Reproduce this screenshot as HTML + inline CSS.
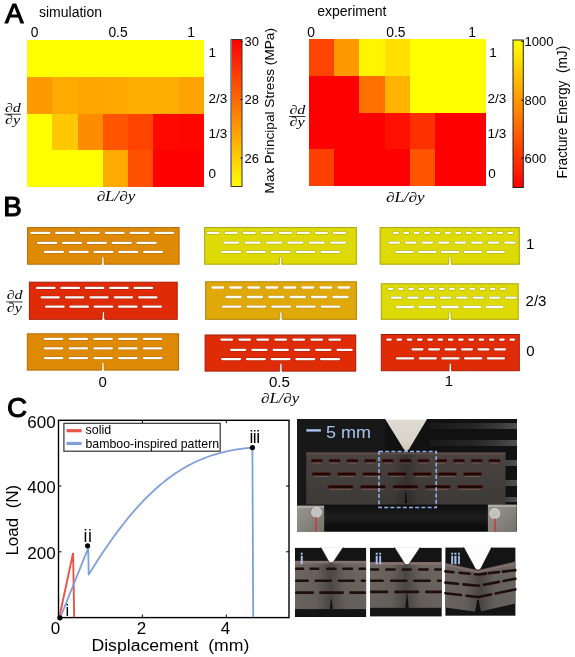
<!DOCTYPE html>
<html><head><meta charset="utf-8"><style>
html,body{margin:0;padding:0;background:#fff;}
body{width:575px;height:657px;overflow:hidden;font-family:"Liberation Sans",sans-serif;}
svg{display:block;will-change:transform;}
</style></head><body>
<svg width="575" height="657" viewBox="0 0 575 657">
<text x="5.0" y="22.6" font-family='"Liberation Sans", sans-serif' font-size="27.8" font-weight="normal" font-style="normal" fill="#000" text-anchor="start" stroke="#000" stroke-width="1.1">A</text>
<text x="39" y="17" font-family='"Liberation Sans", sans-serif' font-size="14" font-weight="normal" font-style="normal" fill="#000" text-anchor="start" >simulation</text>
<rect x="27.00" y="40.00" width="25.76" height="37.25" fill="#FFFF00" shape-rendering="crispEdges"/>
<rect x="52.26" y="40.00" width="25.76" height="37.25" fill="#FFFF00" shape-rendering="crispEdges"/>
<rect x="77.51" y="40.00" width="25.76" height="37.25" fill="#FFFF00" shape-rendering="crispEdges"/>
<rect x="102.77" y="40.00" width="25.76" height="37.25" fill="#FFFF00" shape-rendering="crispEdges"/>
<rect x="128.03" y="40.00" width="25.76" height="37.25" fill="#FFFF00" shape-rendering="crispEdges"/>
<rect x="153.29" y="40.00" width="25.76" height="37.25" fill="#FFFF00" shape-rendering="crispEdges"/>
<rect x="178.54" y="40.00" width="25.26" height="37.25" fill="#FFFF00" shape-rendering="crispEdges"/>
<rect x="27.00" y="76.75" width="25.76" height="37.25" fill="#FF9900" shape-rendering="crispEdges"/>
<rect x="52.26" y="76.75" width="25.76" height="37.25" fill="#FFAA00" shape-rendering="crispEdges"/>
<rect x="77.51" y="76.75" width="25.76" height="37.25" fill="#FFA500" shape-rendering="crispEdges"/>
<rect x="102.77" y="76.75" width="25.76" height="37.25" fill="#FFA800" shape-rendering="crispEdges"/>
<rect x="128.03" y="76.75" width="25.76" height="37.25" fill="#FFAD00" shape-rendering="crispEdges"/>
<rect x="153.29" y="76.75" width="25.76" height="37.25" fill="#FFAD00" shape-rendering="crispEdges"/>
<rect x="178.54" y="76.75" width="25.26" height="37.25" fill="#FFA300" shape-rendering="crispEdges"/>
<rect x="27.00" y="113.50" width="25.76" height="37.25" fill="#FFFF00" shape-rendering="crispEdges"/>
<rect x="52.26" y="113.50" width="25.76" height="37.25" fill="#FFC800" shape-rendering="crispEdges"/>
<rect x="77.51" y="113.50" width="25.76" height="37.25" fill="#FF8C00" shape-rendering="crispEdges"/>
<rect x="102.77" y="113.50" width="25.76" height="37.25" fill="#FF5500" shape-rendering="crispEdges"/>
<rect x="128.03" y="113.50" width="25.76" height="37.25" fill="#FF4400" shape-rendering="crispEdges"/>
<rect x="153.29" y="113.50" width="25.76" height="37.25" fill="#FF0800" shape-rendering="crispEdges"/>
<rect x="178.54" y="113.50" width="25.26" height="37.25" fill="#FF0500" shape-rendering="crispEdges"/>
<rect x="27.00" y="150.25" width="25.76" height="36.75" fill="#FFFF00" shape-rendering="crispEdges"/>
<rect x="52.26" y="150.25" width="25.76" height="36.75" fill="#FFFF00" shape-rendering="crispEdges"/>
<rect x="77.51" y="150.25" width="25.76" height="36.75" fill="#FFFF00" shape-rendering="crispEdges"/>
<rect x="102.77" y="150.25" width="25.76" height="36.75" fill="#FFAA00" shape-rendering="crispEdges"/>
<rect x="128.03" y="150.25" width="25.76" height="36.75" fill="#FF5000" shape-rendering="crispEdges"/>
<rect x="153.29" y="150.25" width="25.76" height="36.75" fill="#FF0000" shape-rendering="crispEdges"/>
<rect x="178.54" y="150.25" width="25.26" height="36.75" fill="#FF0000" shape-rendering="crispEdges"/>
<text x="34.7" y="36.6" font-family='"Liberation Sans", sans-serif' font-size="13.8" font-weight="normal" font-style="normal" fill="#000" text-anchor="middle" >0</text>
<text x="118" y="36.6" font-family='"Liberation Sans", sans-serif' font-size="13.8" font-weight="normal" font-style="normal" fill="#000" text-anchor="middle" >0.5</text>
<text x="191" y="36.6" font-family='"Liberation Sans", sans-serif' font-size="13.8" font-weight="normal" font-style="normal" fill="#000" text-anchor="middle" >1</text>
<text x="208.4" y="56.8" font-family='"Liberation Sans", sans-serif' font-size="13.5" font-weight="normal" font-style="normal" fill="#000" text-anchor="start" >1</text>
<text x="208.4" y="103.3" font-family='"Liberation Sans", sans-serif' font-size="13.5" font-weight="normal" font-style="normal" fill="#000" text-anchor="start" >2/3</text>
<text x="208.4" y="137.6" font-family='"Liberation Sans", sans-serif' font-size="13.5" font-weight="normal" font-style="normal" fill="#000" text-anchor="start" >1/3</text>
<text x="208.4" y="177.8" font-family='"Liberation Sans", sans-serif' font-size="13.5" font-weight="normal" font-style="normal" fill="#000" text-anchor="start" >0</text>
<defs><linearGradient id="cb1" x1="0" y1="0" x2="0" y2="1"><stop offset="0" stop-color="#FF0000"/><stop offset="1" stop-color="#FFFF00"/></linearGradient><linearGradient id="cb2" x1="0" y1="0" x2="0" y2="1"><stop offset="0" stop-color="#FFFF00"/><stop offset="1" stop-color="#FF0000"/></linearGradient></defs>
<rect x="231.2" y="39.5" width="10.8" height="147" fill="url(#cb1)" stroke="#333" stroke-width="1"/>
<line x1="231.2" y1="39.5" x2="231.2" y2="186.5" stroke="#778" stroke-width="1.6"/>
<text x="244.5" y="46" font-family='"Liberation Sans", sans-serif' font-size="13" font-weight="normal" font-style="normal" fill="#000" text-anchor="start" >30</text>
<text x="244.5" y="104" font-family='"Liberation Sans", sans-serif' font-size="13" font-weight="normal" font-style="normal" fill="#000" text-anchor="start" >28</text>
<text x="244.5" y="162.5" font-family='"Liberation Sans", sans-serif' font-size="13" font-weight="normal" font-style="normal" fill="#000" text-anchor="start" >26</text>
<line x1="240.5" y1="41.5" x2="242.5" y2="41.5" stroke="#000" stroke-width="1"/>
<line x1="240.5" y1="99.5" x2="242.5" y2="99.5" stroke="#000" stroke-width="1"/>
<line x1="240.5" y1="158" x2="242.5" y2="158" stroke="#000" stroke-width="1"/>
<text transform="translate(273.9,193.4) rotate(-90)" font-family='"Liberation Sans", sans-serif' font-size="13.6" fill="#000" textLength="165.4" lengthAdjust="spacingAndGlyphs">Max Principal Stress (MPa)</text>
<text x="4.7" y="111.5" font-family='"Liberation Serif", serif' font-size="12.7" font-weight="normal" font-style="italic" fill="#000" text-anchor="start" textLength="16" lengthAdjust="spacingAndGlyphs">&#8706;d</text>
<line x1="4.5" y1="114.2" x2="20.9" y2="114.2" stroke="#222" stroke-width="0.9"/>
<text x="5.0" y="123.8" font-family='"Liberation Serif", serif' font-size="13.5" font-weight="normal" font-style="italic" fill="#000" text-anchor="start" textLength="15.2" lengthAdjust="spacingAndGlyphs">&#8706;y</text>
<text x="96.7" y="201" font-family='"Liberation Serif", serif' font-size="14" font-weight="normal" font-style="italic" fill="#000" text-anchor="start" textLength="38.5" lengthAdjust="spacingAndGlyphs">&#8706;L/&#8706;y</text>
<text x="317.2" y="16" font-family='"Liberation Sans", sans-serif' font-size="14" font-weight="normal" font-style="normal" fill="#000" text-anchor="start" >experiment</text>
<rect x="308.80" y="39.00" width="25.77" height="37.25" fill="#FF4400" shape-rendering="crispEdges"/>
<rect x="334.07" y="39.00" width="25.77" height="37.25" fill="#FF9900" shape-rendering="crispEdges"/>
<rect x="359.34" y="39.00" width="25.77" height="37.25" fill="#FFF500" shape-rendering="crispEdges"/>
<rect x="384.61" y="39.00" width="25.77" height="37.25" fill="#FFE000" shape-rendering="crispEdges"/>
<rect x="409.89" y="39.00" width="25.77" height="37.25" fill="#FFFF00" shape-rendering="crispEdges"/>
<rect x="435.16" y="39.00" width="25.77" height="37.25" fill="#FFFF00" shape-rendering="crispEdges"/>
<rect x="460.43" y="39.00" width="25.27" height="37.25" fill="#FFFF00" shape-rendering="crispEdges"/>
<rect x="308.80" y="75.75" width="25.77" height="37.25" fill="#FF0000" shape-rendering="crispEdges"/>
<rect x="334.07" y="75.75" width="25.77" height="37.25" fill="#FF0000" shape-rendering="crispEdges"/>
<rect x="359.34" y="75.75" width="25.77" height="37.25" fill="#FF7000" shape-rendering="crispEdges"/>
<rect x="384.61" y="75.75" width="25.77" height="37.25" fill="#FFB400" shape-rendering="crispEdges"/>
<rect x="409.89" y="75.75" width="25.77" height="37.25" fill="#FFFF00" shape-rendering="crispEdges"/>
<rect x="435.16" y="75.75" width="25.77" height="37.25" fill="#FFFF00" shape-rendering="crispEdges"/>
<rect x="460.43" y="75.75" width="25.27" height="37.25" fill="#FFFF00" shape-rendering="crispEdges"/>
<rect x="308.80" y="112.50" width="25.77" height="37.25" fill="#FF0000" shape-rendering="crispEdges"/>
<rect x="334.07" y="112.50" width="25.77" height="37.25" fill="#FF0000" shape-rendering="crispEdges"/>
<rect x="359.34" y="112.50" width="25.77" height="37.25" fill="#FF0000" shape-rendering="crispEdges"/>
<rect x="384.61" y="112.50" width="25.77" height="37.25" fill="#FF1000" shape-rendering="crispEdges"/>
<rect x="409.89" y="112.50" width="25.77" height="37.25" fill="#FF3000" shape-rendering="crispEdges"/>
<rect x="435.16" y="112.50" width="25.77" height="37.25" fill="#FF0000" shape-rendering="crispEdges"/>
<rect x="460.43" y="112.50" width="25.27" height="37.25" fill="#FF0000" shape-rendering="crispEdges"/>
<rect x="308.80" y="149.25" width="25.77" height="36.75" fill="#FF4000" shape-rendering="crispEdges"/>
<rect x="334.07" y="149.25" width="25.77" height="36.75" fill="#FF0000" shape-rendering="crispEdges"/>
<rect x="359.34" y="149.25" width="25.77" height="36.75" fill="#FF0000" shape-rendering="crispEdges"/>
<rect x="384.61" y="149.25" width="25.77" height="36.75" fill="#FF0000" shape-rendering="crispEdges"/>
<rect x="409.89" y="149.25" width="25.77" height="36.75" fill="#FF5500" shape-rendering="crispEdges"/>
<rect x="435.16" y="149.25" width="25.77" height="36.75" fill="#FF0000" shape-rendering="crispEdges"/>
<rect x="460.43" y="149.25" width="25.27" height="36.75" fill="#FF0000" shape-rendering="crispEdges"/>
<text x="311" y="36.6" font-family='"Liberation Sans", sans-serif' font-size="13.8" font-weight="normal" font-style="normal" fill="#000" text-anchor="middle" >0</text>
<text x="395.9" y="36.6" font-family='"Liberation Sans", sans-serif' font-size="13.8" font-weight="normal" font-style="normal" fill="#000" text-anchor="middle" >0.5</text>
<text x="472.2" y="36.6" font-family='"Liberation Sans", sans-serif' font-size="13.8" font-weight="normal" font-style="normal" fill="#000" text-anchor="middle" >1</text>
<text x="489.3" y="57" font-family='"Liberation Sans", sans-serif' font-size="13.5" font-weight="normal" font-style="normal" fill="#000" text-anchor="start" >1</text>
<text x="487.6" y="103.3" font-family='"Liberation Sans", sans-serif' font-size="13.5" font-weight="normal" font-style="normal" fill="#000" text-anchor="start" >2/3</text>
<text x="487.6" y="137.6" font-family='"Liberation Sans", sans-serif' font-size="13.5" font-weight="normal" font-style="normal" fill="#000" text-anchor="start" >1/3</text>
<text x="488.2" y="177.8" font-family='"Liberation Sans", sans-serif' font-size="13.5" font-weight="normal" font-style="normal" fill="#000" text-anchor="start" >0</text>
<rect x="513" y="40" width="10.3" height="147.5" fill="url(#cb2)" stroke="#222" stroke-width="1"/>
<text x="524.5" y="46" font-family='"Liberation Sans", sans-serif' font-size="13" font-weight="normal" font-style="normal" fill="#000" text-anchor="start" >1000</text>
<text x="524.5" y="105" font-family='"Liberation Sans", sans-serif' font-size="13" font-weight="normal" font-style="normal" fill="#000" text-anchor="start" >800</text>
<text x="524.5" y="163" font-family='"Liberation Sans", sans-serif' font-size="13" font-weight="normal" font-style="normal" fill="#000" text-anchor="start" >600</text>
<text transform="translate(567.2,178.4) rotate(-90)" font-family='"Liberation Sans", sans-serif' font-size="14.2" fill="#000" style="white-space:pre" textLength="132.6" lengthAdjust="spacingAndGlyphs">Fracture Energy  (mJ)</text>
<line x1="521.3" y1="41.4" x2="523.3" y2="41.4" stroke="#000" stroke-width="1"/>
<line x1="521.3" y1="100.2" x2="523.3" y2="100.2" stroke="#000" stroke-width="1"/>
<line x1="521.3" y1="158.2" x2="523.3" y2="158.2" stroke="#000" stroke-width="1"/>
<text x="289.2" y="113.8" font-family='"Liberation Serif", serif' font-size="12.7" font-weight="normal" font-style="italic" fill="#000" text-anchor="start" textLength="16" lengthAdjust="spacingAndGlyphs">&#8706;d</text>
<line x1="289" y1="116.5" x2="305.4" y2="116.5" stroke="#222" stroke-width="0.9"/>
<text x="289.5" y="126.1" font-family='"Liberation Serif", serif' font-size="13.5" font-weight="normal" font-style="italic" fill="#000" text-anchor="start" textLength="15.2" lengthAdjust="spacingAndGlyphs">&#8706;y</text>
<text x="386" y="202.3" font-family='"Liberation Serif", serif' font-size="14" font-weight="normal" font-style="italic" fill="#000" text-anchor="start" textLength="38.5" lengthAdjust="spacingAndGlyphs">&#8706;L/&#8706;y</text>
<text x="3.3" y="215.8" font-family='"Liberation Sans", sans-serif' font-size="27.8" font-weight="normal" font-style="normal" fill="#000" text-anchor="start" stroke="#000" stroke-width="1.1">B</text>
<rect x="27.60" y="227.60" width="151.50" height="36.60" fill="#DE8A04" stroke="#B06C04" stroke-width="1"/>
<line x1="31.45" y1="232.9" x2="49.15" y2="232.9" stroke="#B06C04" stroke-width="3.1999999999999997" stroke-linecap="round"/>
<line x1="31.45" y1="232.9" x2="49.15" y2="232.9" stroke="#fff" stroke-width="2.3" stroke-linecap="round"/>
<line x1="56.25" y1="232.9" x2="73.95" y2="232.9" stroke="#B06C04" stroke-width="3.1999999999999997" stroke-linecap="round"/>
<line x1="56.25" y1="232.9" x2="73.95" y2="232.9" stroke="#fff" stroke-width="2.3" stroke-linecap="round"/>
<line x1="81.05" y1="232.9" x2="98.75" y2="232.9" stroke="#B06C04" stroke-width="3.1999999999999997" stroke-linecap="round"/>
<line x1="81.05" y1="232.9" x2="98.75" y2="232.9" stroke="#fff" stroke-width="2.3" stroke-linecap="round"/>
<line x1="105.85" y1="232.9" x2="123.55" y2="232.9" stroke="#B06C04" stroke-width="3.1999999999999997" stroke-linecap="round"/>
<line x1="105.85" y1="232.9" x2="123.55" y2="232.9" stroke="#fff" stroke-width="2.3" stroke-linecap="round"/>
<line x1="130.65" y1="232.9" x2="148.35" y2="232.9" stroke="#B06C04" stroke-width="3.1999999999999997" stroke-linecap="round"/>
<line x1="130.65" y1="232.9" x2="148.35" y2="232.9" stroke="#fff" stroke-width="2.3" stroke-linecap="round"/>
<line x1="155.45" y1="232.9" x2="173.15" y2="232.9" stroke="#B06C04" stroke-width="3.1999999999999997" stroke-linecap="round"/>
<line x1="155.45" y1="232.9" x2="173.15" y2="232.9" stroke="#fff" stroke-width="2.3" stroke-linecap="round"/>
<line x1="38.05" y1="242.9" x2="56.25" y2="242.9" stroke="#B06C04" stroke-width="3.1999999999999997" stroke-linecap="round"/>
<line x1="38.05" y1="242.9" x2="56.25" y2="242.9" stroke="#fff" stroke-width="2.3" stroke-linecap="round"/>
<line x1="62.90" y1="242.9" x2="81.10" y2="242.9" stroke="#B06C04" stroke-width="3.1999999999999997" stroke-linecap="round"/>
<line x1="62.90" y1="242.9" x2="81.10" y2="242.9" stroke="#fff" stroke-width="2.3" stroke-linecap="round"/>
<line x1="87.75" y1="242.9" x2="105.95" y2="242.9" stroke="#B06C04" stroke-width="3.1999999999999997" stroke-linecap="round"/>
<line x1="87.75" y1="242.9" x2="105.95" y2="242.9" stroke="#fff" stroke-width="2.3" stroke-linecap="round"/>
<line x1="112.60" y1="242.9" x2="130.80" y2="242.9" stroke="#B06C04" stroke-width="3.1999999999999997" stroke-linecap="round"/>
<line x1="112.60" y1="242.9" x2="130.80" y2="242.9" stroke="#fff" stroke-width="2.3" stroke-linecap="round"/>
<line x1="137.45" y1="242.9" x2="155.65" y2="242.9" stroke="#B06C04" stroke-width="3.1999999999999997" stroke-linecap="round"/>
<line x1="137.45" y1="242.9" x2="155.65" y2="242.9" stroke="#fff" stroke-width="2.3" stroke-linecap="round"/>
<line x1="44.95" y1="251.9" x2="62.85" y2="251.9" stroke="#B06C04" stroke-width="3.1999999999999997" stroke-linecap="round"/>
<line x1="44.95" y1="251.9" x2="62.85" y2="251.9" stroke="#fff" stroke-width="2.3" stroke-linecap="round"/>
<line x1="69.75" y1="251.9" x2="87.65" y2="251.9" stroke="#B06C04" stroke-width="3.1999999999999997" stroke-linecap="round"/>
<line x1="69.75" y1="251.9" x2="87.65" y2="251.9" stroke="#fff" stroke-width="2.3" stroke-linecap="round"/>
<line x1="94.55" y1="251.9" x2="112.45" y2="251.9" stroke="#B06C04" stroke-width="3.1999999999999997" stroke-linecap="round"/>
<line x1="94.55" y1="251.9" x2="112.45" y2="251.9" stroke="#fff" stroke-width="2.3" stroke-linecap="round"/>
<line x1="119.35" y1="251.9" x2="137.25" y2="251.9" stroke="#B06C04" stroke-width="3.1999999999999997" stroke-linecap="round"/>
<line x1="119.35" y1="251.9" x2="137.25" y2="251.9" stroke="#fff" stroke-width="2.3" stroke-linecap="round"/>
<line x1="144.15" y1="251.9" x2="162.05" y2="251.9" stroke="#B06C04" stroke-width="3.1999999999999997" stroke-linecap="round"/>
<line x1="144.15" y1="251.9" x2="162.05" y2="251.9" stroke="#fff" stroke-width="2.3" stroke-linecap="round"/>
<path d="M101.60,265.00 L101.80,257.70 Q102.90,255.10 104.00,257.70 L104.20,265.00" fill="#fff" stroke="#B06C04" stroke-width="0.8"/>
<rect x="101.60" y="264.10" width="2.6" height="1.2" fill="#fff"/>
<rect x="204.70" y="227.60" width="151.60" height="36.60" fill="#DEDA06" stroke="#A8A404" stroke-width="1"/>
<line x1="207.65" y1="232.9" x2="218.55" y2="232.9" stroke="#A8A404" stroke-width="3.1999999999999997" stroke-linecap="round"/>
<line x1="207.65" y1="232.9" x2="218.55" y2="232.9" stroke="#fff" stroke-width="2.3" stroke-linecap="round"/>
<line x1="225.70" y1="232.9" x2="236.60" y2="232.9" stroke="#A8A404" stroke-width="3.1999999999999997" stroke-linecap="round"/>
<line x1="225.70" y1="232.9" x2="236.60" y2="232.9" stroke="#fff" stroke-width="2.3" stroke-linecap="round"/>
<line x1="243.75" y1="232.9" x2="254.65" y2="232.9" stroke="#A8A404" stroke-width="3.1999999999999997" stroke-linecap="round"/>
<line x1="243.75" y1="232.9" x2="254.65" y2="232.9" stroke="#fff" stroke-width="2.3" stroke-linecap="round"/>
<line x1="261.80" y1="232.9" x2="272.70" y2="232.9" stroke="#A8A404" stroke-width="3.1999999999999997" stroke-linecap="round"/>
<line x1="261.80" y1="232.9" x2="272.70" y2="232.9" stroke="#fff" stroke-width="2.3" stroke-linecap="round"/>
<line x1="279.85" y1="232.9" x2="290.75" y2="232.9" stroke="#A8A404" stroke-width="3.1999999999999997" stroke-linecap="round"/>
<line x1="279.85" y1="232.9" x2="290.75" y2="232.9" stroke="#fff" stroke-width="2.3" stroke-linecap="round"/>
<line x1="297.90" y1="232.9" x2="308.80" y2="232.9" stroke="#A8A404" stroke-width="3.1999999999999997" stroke-linecap="round"/>
<line x1="297.90" y1="232.9" x2="308.80" y2="232.9" stroke="#fff" stroke-width="2.3" stroke-linecap="round"/>
<line x1="315.95" y1="232.9" x2="326.85" y2="232.9" stroke="#A8A404" stroke-width="3.1999999999999997" stroke-linecap="round"/>
<line x1="315.95" y1="232.9" x2="326.85" y2="232.9" stroke="#fff" stroke-width="2.3" stroke-linecap="round"/>
<line x1="334.00" y1="232.9" x2="344.90" y2="232.9" stroke="#A8A404" stroke-width="3.1999999999999997" stroke-linecap="round"/>
<line x1="334.00" y1="232.9" x2="344.90" y2="232.9" stroke="#fff" stroke-width="2.3" stroke-linecap="round"/>
<line x1="224.15" y1="242.6" x2="238.55" y2="242.6" stroke="#A8A404" stroke-width="3.1999999999999997" stroke-linecap="round"/>
<line x1="224.15" y1="242.6" x2="238.55" y2="242.6" stroke="#fff" stroke-width="2.3" stroke-linecap="round"/>
<line x1="245.50" y1="242.6" x2="259.90" y2="242.6" stroke="#A8A404" stroke-width="3.1999999999999997" stroke-linecap="round"/>
<line x1="245.50" y1="242.6" x2="259.90" y2="242.6" stroke="#fff" stroke-width="2.3" stroke-linecap="round"/>
<line x1="266.85" y1="242.6" x2="281.25" y2="242.6" stroke="#A8A404" stroke-width="3.1999999999999997" stroke-linecap="round"/>
<line x1="266.85" y1="242.6" x2="281.25" y2="242.6" stroke="#fff" stroke-width="2.3" stroke-linecap="round"/>
<line x1="288.20" y1="242.6" x2="302.60" y2="242.6" stroke="#A8A404" stroke-width="3.1999999999999997" stroke-linecap="round"/>
<line x1="288.20" y1="242.6" x2="302.60" y2="242.6" stroke="#fff" stroke-width="2.3" stroke-linecap="round"/>
<line x1="309.55" y1="242.6" x2="323.95" y2="242.6" stroke="#A8A404" stroke-width="3.1999999999999997" stroke-linecap="round"/>
<line x1="309.55" y1="242.6" x2="323.95" y2="242.6" stroke="#fff" stroke-width="2.3" stroke-linecap="round"/>
<line x1="330.90" y1="242.6" x2="345.30" y2="242.6" stroke="#A8A404" stroke-width="3.1999999999999997" stroke-linecap="round"/>
<line x1="330.90" y1="242.6" x2="345.30" y2="242.6" stroke="#fff" stroke-width="2.3" stroke-linecap="round"/>
<line x1="222.25" y1="251.9" x2="239.95" y2="251.9" stroke="#A8A404" stroke-width="3.1999999999999997" stroke-linecap="round"/>
<line x1="222.25" y1="251.9" x2="239.95" y2="251.9" stroke="#fff" stroke-width="2.3" stroke-linecap="round"/>
<line x1="247.05" y1="251.9" x2="264.75" y2="251.9" stroke="#A8A404" stroke-width="3.1999999999999997" stroke-linecap="round"/>
<line x1="247.05" y1="251.9" x2="264.75" y2="251.9" stroke="#fff" stroke-width="2.3" stroke-linecap="round"/>
<line x1="271.85" y1="251.9" x2="289.55" y2="251.9" stroke="#A8A404" stroke-width="3.1999999999999997" stroke-linecap="round"/>
<line x1="271.85" y1="251.9" x2="289.55" y2="251.9" stroke="#fff" stroke-width="2.3" stroke-linecap="round"/>
<line x1="296.65" y1="251.9" x2="314.35" y2="251.9" stroke="#A8A404" stroke-width="3.1999999999999997" stroke-linecap="round"/>
<line x1="296.65" y1="251.9" x2="314.35" y2="251.9" stroke="#fff" stroke-width="2.3" stroke-linecap="round"/>
<line x1="321.45" y1="251.9" x2="339.15" y2="251.9" stroke="#A8A404" stroke-width="3.1999999999999997" stroke-linecap="round"/>
<line x1="321.45" y1="251.9" x2="339.15" y2="251.9" stroke="#fff" stroke-width="2.3" stroke-linecap="round"/>
<path d="M279.30,265.00 L279.50,257.70 Q280.60,255.10 281.70,257.70 L281.90,265.00" fill="#fff" stroke="#A8A404" stroke-width="0.8"/>
<rect x="279.30" y="264.10" width="2.6" height="1.2" fill="#fff"/>
<rect x="380.10" y="227.60" width="139.20" height="36.60" fill="#DEDA06" stroke="#A8A404" stroke-width="1"/>
<line x1="393.95" y1="232.9" x2="397.65" y2="232.9" stroke="#A8A404" stroke-width="3.1999999999999997" stroke-linecap="round"/>
<line x1="393.95" y1="232.9" x2="397.65" y2="232.9" stroke="#fff" stroke-width="2.3" stroke-linecap="round"/>
<line x1="404.36" y1="232.9" x2="408.06" y2="232.9" stroke="#A8A404" stroke-width="3.1999999999999997" stroke-linecap="round"/>
<line x1="404.36" y1="232.9" x2="408.06" y2="232.9" stroke="#fff" stroke-width="2.3" stroke-linecap="round"/>
<line x1="414.77" y1="232.9" x2="418.47" y2="232.9" stroke="#A8A404" stroke-width="3.1999999999999997" stroke-linecap="round"/>
<line x1="414.77" y1="232.9" x2="418.47" y2="232.9" stroke="#fff" stroke-width="2.3" stroke-linecap="round"/>
<line x1="425.18" y1="232.9" x2="428.88" y2="232.9" stroke="#A8A404" stroke-width="3.1999999999999997" stroke-linecap="round"/>
<line x1="425.18" y1="232.9" x2="428.88" y2="232.9" stroke="#fff" stroke-width="2.3" stroke-linecap="round"/>
<line x1="435.59" y1="232.9" x2="439.29" y2="232.9" stroke="#A8A404" stroke-width="3.1999999999999997" stroke-linecap="round"/>
<line x1="435.59" y1="232.9" x2="439.29" y2="232.9" stroke="#fff" stroke-width="2.3" stroke-linecap="round"/>
<line x1="446.00" y1="232.9" x2="449.70" y2="232.9" stroke="#A8A404" stroke-width="3.1999999999999997" stroke-linecap="round"/>
<line x1="446.00" y1="232.9" x2="449.70" y2="232.9" stroke="#fff" stroke-width="2.3" stroke-linecap="round"/>
<line x1="456.41" y1="232.9" x2="460.11" y2="232.9" stroke="#A8A404" stroke-width="3.1999999999999997" stroke-linecap="round"/>
<line x1="456.41" y1="232.9" x2="460.11" y2="232.9" stroke="#fff" stroke-width="2.3" stroke-linecap="round"/>
<line x1="466.82" y1="232.9" x2="470.52" y2="232.9" stroke="#A8A404" stroke-width="3.1999999999999997" stroke-linecap="round"/>
<line x1="466.82" y1="232.9" x2="470.52" y2="232.9" stroke="#fff" stroke-width="2.3" stroke-linecap="round"/>
<line x1="477.23" y1="232.9" x2="480.93" y2="232.9" stroke="#A8A404" stroke-width="3.1999999999999997" stroke-linecap="round"/>
<line x1="477.23" y1="232.9" x2="480.93" y2="232.9" stroke="#fff" stroke-width="2.3" stroke-linecap="round"/>
<line x1="487.64" y1="232.9" x2="491.34" y2="232.9" stroke="#A8A404" stroke-width="3.1999999999999997" stroke-linecap="round"/>
<line x1="487.64" y1="232.9" x2="491.34" y2="232.9" stroke="#fff" stroke-width="2.3" stroke-linecap="round"/>
<line x1="498.05" y1="232.9" x2="501.75" y2="232.9" stroke="#A8A404" stroke-width="3.1999999999999997" stroke-linecap="round"/>
<line x1="498.05" y1="232.9" x2="501.75" y2="232.9" stroke="#fff" stroke-width="2.3" stroke-linecap="round"/>
<line x1="508.46" y1="232.9" x2="512.16" y2="232.9" stroke="#A8A404" stroke-width="3.1999999999999997" stroke-linecap="round"/>
<line x1="508.46" y1="232.9" x2="512.16" y2="232.9" stroke="#fff" stroke-width="2.3" stroke-linecap="round"/>
<line x1="389.35" y1="242.6" x2="399.05" y2="242.6" stroke="#A8A404" stroke-width="3.1999999999999997" stroke-linecap="round"/>
<line x1="389.35" y1="242.6" x2="399.05" y2="242.6" stroke="#fff" stroke-width="2.3" stroke-linecap="round"/>
<line x1="405.90" y1="242.6" x2="415.60" y2="242.6" stroke="#A8A404" stroke-width="3.1999999999999997" stroke-linecap="round"/>
<line x1="405.90" y1="242.6" x2="415.60" y2="242.6" stroke="#fff" stroke-width="2.3" stroke-linecap="round"/>
<line x1="422.45" y1="242.6" x2="432.15" y2="242.6" stroke="#A8A404" stroke-width="3.1999999999999997" stroke-linecap="round"/>
<line x1="422.45" y1="242.6" x2="432.15" y2="242.6" stroke="#fff" stroke-width="2.3" stroke-linecap="round"/>
<line x1="439.00" y1="242.6" x2="448.70" y2="242.6" stroke="#A8A404" stroke-width="3.1999999999999997" stroke-linecap="round"/>
<line x1="439.00" y1="242.6" x2="448.70" y2="242.6" stroke="#fff" stroke-width="2.3" stroke-linecap="round"/>
<line x1="455.55" y1="242.6" x2="465.25" y2="242.6" stroke="#A8A404" stroke-width="3.1999999999999997" stroke-linecap="round"/>
<line x1="455.55" y1="242.6" x2="465.25" y2="242.6" stroke="#fff" stroke-width="2.3" stroke-linecap="round"/>
<line x1="472.10" y1="242.6" x2="481.80" y2="242.6" stroke="#A8A404" stroke-width="3.1999999999999997" stroke-linecap="round"/>
<line x1="472.10" y1="242.6" x2="481.80" y2="242.6" stroke="#fff" stroke-width="2.3" stroke-linecap="round"/>
<line x1="488.65" y1="242.6" x2="498.35" y2="242.6" stroke="#A8A404" stroke-width="3.1999999999999997" stroke-linecap="round"/>
<line x1="488.65" y1="242.6" x2="498.35" y2="242.6" stroke="#fff" stroke-width="2.3" stroke-linecap="round"/>
<line x1="505.20" y1="242.6" x2="514.90" y2="242.6" stroke="#A8A404" stroke-width="3.1999999999999997" stroke-linecap="round"/>
<line x1="505.20" y1="242.6" x2="514.90" y2="242.6" stroke="#fff" stroke-width="2.3" stroke-linecap="round"/>
<line x1="396.35" y1="251.9" x2="412.65" y2="251.9" stroke="#A8A404" stroke-width="3.1999999999999997" stroke-linecap="round"/>
<line x1="396.35" y1="251.9" x2="412.65" y2="251.9" stroke="#fff" stroke-width="2.3" stroke-linecap="round"/>
<line x1="419.15" y1="251.9" x2="435.45" y2="251.9" stroke="#A8A404" stroke-width="3.1999999999999997" stroke-linecap="round"/>
<line x1="419.15" y1="251.9" x2="435.45" y2="251.9" stroke="#fff" stroke-width="2.3" stroke-linecap="round"/>
<line x1="441.95" y1="251.9" x2="458.25" y2="251.9" stroke="#A8A404" stroke-width="3.1999999999999997" stroke-linecap="round"/>
<line x1="441.95" y1="251.9" x2="458.25" y2="251.9" stroke="#fff" stroke-width="2.3" stroke-linecap="round"/>
<line x1="464.75" y1="251.9" x2="481.05" y2="251.9" stroke="#A8A404" stroke-width="3.1999999999999997" stroke-linecap="round"/>
<line x1="464.75" y1="251.9" x2="481.05" y2="251.9" stroke="#fff" stroke-width="2.3" stroke-linecap="round"/>
<line x1="487.55" y1="251.9" x2="503.85" y2="251.9" stroke="#A8A404" stroke-width="3.1999999999999997" stroke-linecap="round"/>
<line x1="487.55" y1="251.9" x2="503.85" y2="251.9" stroke="#fff" stroke-width="2.3" stroke-linecap="round"/>
<path d="M448.70,265.00 L448.90,257.70 Q450.00,255.10 451.10,257.70 L451.30,265.00" fill="#fff" stroke="#A8A404" stroke-width="0.8"/>
<rect x="448.70" y="264.10" width="2.6" height="1.2" fill="#fff"/>
<rect x="29.40" y="282.20" width="147.80" height="37.10" fill="#E02C06" stroke="#A81A04" stroke-width="1"/>
<line x1="36.95" y1="287.9" x2="54.55" y2="287.9" stroke="#A81A04" stroke-width="3.1999999999999997" stroke-linecap="round"/>
<line x1="36.95" y1="287.9" x2="54.55" y2="287.9" stroke="#fff" stroke-width="2.3" stroke-linecap="round"/>
<line x1="61.35" y1="287.9" x2="78.95" y2="287.9" stroke="#A81A04" stroke-width="3.1999999999999997" stroke-linecap="round"/>
<line x1="61.35" y1="287.9" x2="78.95" y2="287.9" stroke="#fff" stroke-width="2.3" stroke-linecap="round"/>
<line x1="85.75" y1="287.9" x2="103.35" y2="287.9" stroke="#A81A04" stroke-width="3.1999999999999997" stroke-linecap="round"/>
<line x1="85.75" y1="287.9" x2="103.35" y2="287.9" stroke="#fff" stroke-width="2.3" stroke-linecap="round"/>
<line x1="110.15" y1="287.9" x2="127.75" y2="287.9" stroke="#A81A04" stroke-width="3.1999999999999997" stroke-linecap="round"/>
<line x1="110.15" y1="287.9" x2="127.75" y2="287.9" stroke="#fff" stroke-width="2.3" stroke-linecap="round"/>
<line x1="134.55" y1="287.9" x2="152.15" y2="287.9" stroke="#A81A04" stroke-width="3.1999999999999997" stroke-linecap="round"/>
<line x1="134.55" y1="287.9" x2="152.15" y2="287.9" stroke="#fff" stroke-width="2.3" stroke-linecap="round"/>
<line x1="41.55" y1="297.3" x2="58.85" y2="297.3" stroke="#A81A04" stroke-width="3.1999999999999997" stroke-linecap="round"/>
<line x1="41.55" y1="297.3" x2="58.85" y2="297.3" stroke="#fff" stroke-width="2.3" stroke-linecap="round"/>
<line x1="65.95" y1="297.3" x2="83.25" y2="297.3" stroke="#A81A04" stroke-width="3.1999999999999997" stroke-linecap="round"/>
<line x1="65.95" y1="297.3" x2="83.25" y2="297.3" stroke="#fff" stroke-width="2.3" stroke-linecap="round"/>
<line x1="90.35" y1="297.3" x2="107.65" y2="297.3" stroke="#A81A04" stroke-width="3.1999999999999997" stroke-linecap="round"/>
<line x1="90.35" y1="297.3" x2="107.65" y2="297.3" stroke="#fff" stroke-width="2.3" stroke-linecap="round"/>
<line x1="114.75" y1="297.3" x2="132.05" y2="297.3" stroke="#A81A04" stroke-width="3.1999999999999997" stroke-linecap="round"/>
<line x1="114.75" y1="297.3" x2="132.05" y2="297.3" stroke="#fff" stroke-width="2.3" stroke-linecap="round"/>
<line x1="139.15" y1="297.3" x2="156.45" y2="297.3" stroke="#A81A04" stroke-width="3.1999999999999997" stroke-linecap="round"/>
<line x1="139.15" y1="297.3" x2="156.45" y2="297.3" stroke="#fff" stroke-width="2.3" stroke-linecap="round"/>
<line x1="46.05" y1="306.7" x2="63.65" y2="306.7" stroke="#A81A04" stroke-width="3.1999999999999997" stroke-linecap="round"/>
<line x1="46.05" y1="306.7" x2="63.65" y2="306.7" stroke="#fff" stroke-width="2.3" stroke-linecap="round"/>
<line x1="70.35" y1="306.7" x2="87.95" y2="306.7" stroke="#A81A04" stroke-width="3.1999999999999997" stroke-linecap="round"/>
<line x1="70.35" y1="306.7" x2="87.95" y2="306.7" stroke="#fff" stroke-width="2.3" stroke-linecap="round"/>
<line x1="94.65" y1="306.7" x2="112.25" y2="306.7" stroke="#A81A04" stroke-width="3.1999999999999997" stroke-linecap="round"/>
<line x1="94.65" y1="306.7" x2="112.25" y2="306.7" stroke="#fff" stroke-width="2.3" stroke-linecap="round"/>
<line x1="118.95" y1="306.7" x2="136.55" y2="306.7" stroke="#A81A04" stroke-width="3.1999999999999997" stroke-linecap="round"/>
<line x1="118.95" y1="306.7" x2="136.55" y2="306.7" stroke="#fff" stroke-width="2.3" stroke-linecap="round"/>
<line x1="143.25" y1="306.7" x2="160.85" y2="306.7" stroke="#A81A04" stroke-width="3.1999999999999997" stroke-linecap="round"/>
<line x1="143.25" y1="306.7" x2="160.85" y2="306.7" stroke="#fff" stroke-width="2.3" stroke-linecap="round"/>
<path d="M102.10,320.10 L102.30,312.80 Q103.40,310.20 104.50,312.80 L104.70,320.10" fill="#fff" stroke="#A81A04" stroke-width="0.8"/>
<rect x="102.10" y="319.20" width="2.6" height="1.2" fill="#fff"/>
<rect x="205.60" y="281.80" width="150.80" height="37.50" fill="#E0A808" stroke="#B08206" stroke-width="1"/>
<line x1="212.25" y1="287.5" x2="223.15" y2="287.5" stroke="#B08206" stroke-width="3.1999999999999997" stroke-linecap="round"/>
<line x1="212.25" y1="287.5" x2="223.15" y2="287.5" stroke="#fff" stroke-width="2.3" stroke-linecap="round"/>
<line x1="230.28" y1="287.5" x2="241.18" y2="287.5" stroke="#B08206" stroke-width="3.1999999999999997" stroke-linecap="round"/>
<line x1="230.28" y1="287.5" x2="241.18" y2="287.5" stroke="#fff" stroke-width="2.3" stroke-linecap="round"/>
<line x1="248.31" y1="287.5" x2="259.21" y2="287.5" stroke="#B08206" stroke-width="3.1999999999999997" stroke-linecap="round"/>
<line x1="248.31" y1="287.5" x2="259.21" y2="287.5" stroke="#fff" stroke-width="2.3" stroke-linecap="round"/>
<line x1="266.34" y1="287.5" x2="277.24" y2="287.5" stroke="#B08206" stroke-width="3.1999999999999997" stroke-linecap="round"/>
<line x1="266.34" y1="287.5" x2="277.24" y2="287.5" stroke="#fff" stroke-width="2.3" stroke-linecap="round"/>
<line x1="284.37" y1="287.5" x2="295.27" y2="287.5" stroke="#B08206" stroke-width="3.1999999999999997" stroke-linecap="round"/>
<line x1="284.37" y1="287.5" x2="295.27" y2="287.5" stroke="#fff" stroke-width="2.3" stroke-linecap="round"/>
<line x1="302.40" y1="287.5" x2="313.30" y2="287.5" stroke="#B08206" stroke-width="3.1999999999999997" stroke-linecap="round"/>
<line x1="302.40" y1="287.5" x2="313.30" y2="287.5" stroke="#fff" stroke-width="2.3" stroke-linecap="round"/>
<line x1="320.43" y1="287.5" x2="331.33" y2="287.5" stroke="#B08206" stroke-width="3.1999999999999997" stroke-linecap="round"/>
<line x1="320.43" y1="287.5" x2="331.33" y2="287.5" stroke="#fff" stroke-width="2.3" stroke-linecap="round"/>
<line x1="338.46" y1="287.5" x2="349.36" y2="287.5" stroke="#B08206" stroke-width="3.1999999999999997" stroke-linecap="round"/>
<line x1="338.46" y1="287.5" x2="349.36" y2="287.5" stroke="#fff" stroke-width="2.3" stroke-linecap="round"/>
<line x1="226.45" y1="297" x2="240.75" y2="297" stroke="#B08206" stroke-width="3.1999999999999997" stroke-linecap="round"/>
<line x1="226.45" y1="297" x2="240.75" y2="297" stroke="#fff" stroke-width="2.3" stroke-linecap="round"/>
<line x1="247.83" y1="297" x2="262.13" y2="297" stroke="#B08206" stroke-width="3.1999999999999997" stroke-linecap="round"/>
<line x1="247.83" y1="297" x2="262.13" y2="297" stroke="#fff" stroke-width="2.3" stroke-linecap="round"/>
<line x1="269.21" y1="297" x2="283.51" y2="297" stroke="#B08206" stroke-width="3.1999999999999997" stroke-linecap="round"/>
<line x1="269.21" y1="297" x2="283.51" y2="297" stroke="#fff" stroke-width="2.3" stroke-linecap="round"/>
<line x1="290.59" y1="297" x2="304.89" y2="297" stroke="#B08206" stroke-width="3.1999999999999997" stroke-linecap="round"/>
<line x1="290.59" y1="297" x2="304.89" y2="297" stroke="#fff" stroke-width="2.3" stroke-linecap="round"/>
<line x1="311.97" y1="297" x2="326.27" y2="297" stroke="#B08206" stroke-width="3.1999999999999997" stroke-linecap="round"/>
<line x1="311.97" y1="297" x2="326.27" y2="297" stroke="#fff" stroke-width="2.3" stroke-linecap="round"/>
<line x1="333.35" y1="297" x2="347.65" y2="297" stroke="#B08206" stroke-width="3.1999999999999997" stroke-linecap="round"/>
<line x1="333.35" y1="297" x2="347.65" y2="297" stroke="#fff" stroke-width="2.3" stroke-linecap="round"/>
<line x1="222.75" y1="306.7" x2="240.45" y2="306.7" stroke="#B08206" stroke-width="3.1999999999999997" stroke-linecap="round"/>
<line x1="222.75" y1="306.7" x2="240.45" y2="306.7" stroke="#fff" stroke-width="2.3" stroke-linecap="round"/>
<line x1="247.50" y1="306.7" x2="265.20" y2="306.7" stroke="#B08206" stroke-width="3.1999999999999997" stroke-linecap="round"/>
<line x1="247.50" y1="306.7" x2="265.20" y2="306.7" stroke="#fff" stroke-width="2.3" stroke-linecap="round"/>
<line x1="272.25" y1="306.7" x2="289.95" y2="306.7" stroke="#B08206" stroke-width="3.1999999999999997" stroke-linecap="round"/>
<line x1="272.25" y1="306.7" x2="289.95" y2="306.7" stroke="#fff" stroke-width="2.3" stroke-linecap="round"/>
<line x1="297.00" y1="306.7" x2="314.70" y2="306.7" stroke="#B08206" stroke-width="3.1999999999999997" stroke-linecap="round"/>
<line x1="297.00" y1="306.7" x2="314.70" y2="306.7" stroke="#fff" stroke-width="2.3" stroke-linecap="round"/>
<line x1="321.75" y1="306.7" x2="339.45" y2="306.7" stroke="#B08206" stroke-width="3.1999999999999997" stroke-linecap="round"/>
<line x1="321.75" y1="306.7" x2="339.45" y2="306.7" stroke="#fff" stroke-width="2.3" stroke-linecap="round"/>
<path d="M279.60,320.10 L279.80,312.80 Q280.90,310.20 282.00,312.80 L282.20,320.10" fill="#fff" stroke="#B08206" stroke-width="0.8"/>
<rect x="279.60" y="319.20" width="2.6" height="1.2" fill="#fff"/>
<rect x="381.30" y="283.80" width="136.90" height="35.50" fill="#DEDA06" stroke="#A8A404" stroke-width="1"/>
<line x1="388.95" y1="288.9" x2="392.35" y2="288.9" stroke="#A8A404" stroke-width="3.1999999999999997" stroke-linecap="round"/>
<line x1="388.95" y1="288.9" x2="392.35" y2="288.9" stroke="#fff" stroke-width="2.3" stroke-linecap="round"/>
<line x1="399.15" y1="288.9" x2="402.55" y2="288.9" stroke="#A8A404" stroke-width="3.1999999999999997" stroke-linecap="round"/>
<line x1="399.15" y1="288.9" x2="402.55" y2="288.9" stroke="#fff" stroke-width="2.3" stroke-linecap="round"/>
<line x1="409.35" y1="288.9" x2="412.75" y2="288.9" stroke="#A8A404" stroke-width="3.1999999999999997" stroke-linecap="round"/>
<line x1="409.35" y1="288.9" x2="412.75" y2="288.9" stroke="#fff" stroke-width="2.3" stroke-linecap="round"/>
<line x1="419.55" y1="288.9" x2="422.95" y2="288.9" stroke="#A8A404" stroke-width="3.1999999999999997" stroke-linecap="round"/>
<line x1="419.55" y1="288.9" x2="422.95" y2="288.9" stroke="#fff" stroke-width="2.3" stroke-linecap="round"/>
<line x1="429.75" y1="288.9" x2="433.15" y2="288.9" stroke="#A8A404" stroke-width="3.1999999999999997" stroke-linecap="round"/>
<line x1="429.75" y1="288.9" x2="433.15" y2="288.9" stroke="#fff" stroke-width="2.3" stroke-linecap="round"/>
<line x1="439.95" y1="288.9" x2="443.35" y2="288.9" stroke="#A8A404" stroke-width="3.1999999999999997" stroke-linecap="round"/>
<line x1="439.95" y1="288.9" x2="443.35" y2="288.9" stroke="#fff" stroke-width="2.3" stroke-linecap="round"/>
<line x1="450.15" y1="288.9" x2="453.55" y2="288.9" stroke="#A8A404" stroke-width="3.1999999999999997" stroke-linecap="round"/>
<line x1="450.15" y1="288.9" x2="453.55" y2="288.9" stroke="#fff" stroke-width="2.3" stroke-linecap="round"/>
<line x1="460.35" y1="288.9" x2="463.75" y2="288.9" stroke="#A8A404" stroke-width="3.1999999999999997" stroke-linecap="round"/>
<line x1="460.35" y1="288.9" x2="463.75" y2="288.9" stroke="#fff" stroke-width="2.3" stroke-linecap="round"/>
<line x1="470.55" y1="288.9" x2="473.95" y2="288.9" stroke="#A8A404" stroke-width="3.1999999999999997" stroke-linecap="round"/>
<line x1="470.55" y1="288.9" x2="473.95" y2="288.9" stroke="#fff" stroke-width="2.3" stroke-linecap="round"/>
<line x1="480.75" y1="288.9" x2="484.15" y2="288.9" stroke="#A8A404" stroke-width="3.1999999999999997" stroke-linecap="round"/>
<line x1="480.75" y1="288.9" x2="484.15" y2="288.9" stroke="#fff" stroke-width="2.3" stroke-linecap="round"/>
<line x1="490.95" y1="288.9" x2="494.35" y2="288.9" stroke="#A8A404" stroke-width="3.1999999999999997" stroke-linecap="round"/>
<line x1="490.95" y1="288.9" x2="494.35" y2="288.9" stroke="#fff" stroke-width="2.3" stroke-linecap="round"/>
<line x1="501.15" y1="288.9" x2="504.55" y2="288.9" stroke="#A8A404" stroke-width="3.1999999999999997" stroke-linecap="round"/>
<line x1="501.15" y1="288.9" x2="504.55" y2="288.9" stroke="#fff" stroke-width="2.3" stroke-linecap="round"/>
<line x1="391.75" y1="297.7" x2="401.25" y2="297.7" stroke="#A8A404" stroke-width="3.1999999999999997" stroke-linecap="round"/>
<line x1="391.75" y1="297.7" x2="401.25" y2="297.7" stroke="#fff" stroke-width="2.3" stroke-linecap="round"/>
<line x1="408.11" y1="297.7" x2="417.61" y2="297.7" stroke="#A8A404" stroke-width="3.1999999999999997" stroke-linecap="round"/>
<line x1="408.11" y1="297.7" x2="417.61" y2="297.7" stroke="#fff" stroke-width="2.3" stroke-linecap="round"/>
<line x1="424.47" y1="297.7" x2="433.97" y2="297.7" stroke="#A8A404" stroke-width="3.1999999999999997" stroke-linecap="round"/>
<line x1="424.47" y1="297.7" x2="433.97" y2="297.7" stroke="#fff" stroke-width="2.3" stroke-linecap="round"/>
<line x1="440.83" y1="297.7" x2="450.33" y2="297.7" stroke="#A8A404" stroke-width="3.1999999999999997" stroke-linecap="round"/>
<line x1="440.83" y1="297.7" x2="450.33" y2="297.7" stroke="#fff" stroke-width="2.3" stroke-linecap="round"/>
<line x1="457.19" y1="297.7" x2="466.69" y2="297.7" stroke="#A8A404" stroke-width="3.1999999999999997" stroke-linecap="round"/>
<line x1="457.19" y1="297.7" x2="466.69" y2="297.7" stroke="#fff" stroke-width="2.3" stroke-linecap="round"/>
<line x1="473.55" y1="297.7" x2="483.05" y2="297.7" stroke="#A8A404" stroke-width="3.1999999999999997" stroke-linecap="round"/>
<line x1="473.55" y1="297.7" x2="483.05" y2="297.7" stroke="#fff" stroke-width="2.3" stroke-linecap="round"/>
<line x1="489.91" y1="297.7" x2="499.41" y2="297.7" stroke="#A8A404" stroke-width="3.1999999999999997" stroke-linecap="round"/>
<line x1="489.91" y1="297.7" x2="499.41" y2="297.7" stroke="#fff" stroke-width="2.3" stroke-linecap="round"/>
<line x1="506.27" y1="297.7" x2="515.77" y2="297.7" stroke="#A8A404" stroke-width="3.1999999999999997" stroke-linecap="round"/>
<line x1="506.27" y1="297.7" x2="515.77" y2="297.7" stroke="#fff" stroke-width="2.3" stroke-linecap="round"/>
<line x1="397.05" y1="307" x2="412.95" y2="307" stroke="#A8A404" stroke-width="3.1999999999999997" stroke-linecap="round"/>
<line x1="397.05" y1="307" x2="412.95" y2="307" stroke="#fff" stroke-width="2.3" stroke-linecap="round"/>
<line x1="419.45" y1="307" x2="435.35" y2="307" stroke="#A8A404" stroke-width="3.1999999999999997" stroke-linecap="round"/>
<line x1="419.45" y1="307" x2="435.35" y2="307" stroke="#fff" stroke-width="2.3" stroke-linecap="round"/>
<line x1="441.85" y1="307" x2="457.75" y2="307" stroke="#A8A404" stroke-width="3.1999999999999997" stroke-linecap="round"/>
<line x1="441.85" y1="307" x2="457.75" y2="307" stroke="#fff" stroke-width="2.3" stroke-linecap="round"/>
<line x1="464.25" y1="307" x2="480.15" y2="307" stroke="#A8A404" stroke-width="3.1999999999999997" stroke-linecap="round"/>
<line x1="464.25" y1="307" x2="480.15" y2="307" stroke="#fff" stroke-width="2.3" stroke-linecap="round"/>
<line x1="486.65" y1="307" x2="502.55" y2="307" stroke="#A8A404" stroke-width="3.1999999999999997" stroke-linecap="round"/>
<line x1="486.65" y1="307" x2="502.55" y2="307" stroke="#fff" stroke-width="2.3" stroke-linecap="round"/>
<path d="M448.60,320.10 L448.80,312.80 Q449.90,310.20 451.00,312.80 L451.20,320.10" fill="#fff" stroke="#A8A404" stroke-width="0.8"/>
<rect x="448.60" y="319.20" width="2.6" height="1.2" fill="#fff"/>
<rect x="27.30" y="333.80" width="151.30" height="36.30" fill="#DE8A04" stroke="#B06C04" stroke-width="1"/>
<line x1="44.85" y1="338.9" x2="62.35" y2="338.9" stroke="#B06C04" stroke-width="3.1999999999999997" stroke-linecap="round"/>
<line x1="44.85" y1="338.9" x2="62.35" y2="338.9" stroke="#fff" stroke-width="2.3" stroke-linecap="round"/>
<line x1="69.60" y1="338.9" x2="87.10" y2="338.9" stroke="#B06C04" stroke-width="3.1999999999999997" stroke-linecap="round"/>
<line x1="69.60" y1="338.9" x2="87.10" y2="338.9" stroke="#fff" stroke-width="2.3" stroke-linecap="round"/>
<line x1="94.35" y1="338.9" x2="111.85" y2="338.9" stroke="#B06C04" stroke-width="3.1999999999999997" stroke-linecap="round"/>
<line x1="94.35" y1="338.9" x2="111.85" y2="338.9" stroke="#fff" stroke-width="2.3" stroke-linecap="round"/>
<line x1="119.10" y1="338.9" x2="136.60" y2="338.9" stroke="#B06C04" stroke-width="3.1999999999999997" stroke-linecap="round"/>
<line x1="119.10" y1="338.9" x2="136.60" y2="338.9" stroke="#fff" stroke-width="2.3" stroke-linecap="round"/>
<line x1="143.85" y1="338.9" x2="161.35" y2="338.9" stroke="#B06C04" stroke-width="3.1999999999999997" stroke-linecap="round"/>
<line x1="143.85" y1="338.9" x2="161.35" y2="338.9" stroke="#fff" stroke-width="2.3" stroke-linecap="round"/>
<line x1="44.85" y1="348.4" x2="62.35" y2="348.4" stroke="#B06C04" stroke-width="3.1999999999999997" stroke-linecap="round"/>
<line x1="44.85" y1="348.4" x2="62.35" y2="348.4" stroke="#fff" stroke-width="2.3" stroke-linecap="round"/>
<line x1="69.60" y1="348.4" x2="87.10" y2="348.4" stroke="#B06C04" stroke-width="3.1999999999999997" stroke-linecap="round"/>
<line x1="69.60" y1="348.4" x2="87.10" y2="348.4" stroke="#fff" stroke-width="2.3" stroke-linecap="round"/>
<line x1="94.35" y1="348.4" x2="111.85" y2="348.4" stroke="#B06C04" stroke-width="3.1999999999999997" stroke-linecap="round"/>
<line x1="94.35" y1="348.4" x2="111.85" y2="348.4" stroke="#fff" stroke-width="2.3" stroke-linecap="round"/>
<line x1="119.10" y1="348.4" x2="136.60" y2="348.4" stroke="#B06C04" stroke-width="3.1999999999999997" stroke-linecap="round"/>
<line x1="119.10" y1="348.4" x2="136.60" y2="348.4" stroke="#fff" stroke-width="2.3" stroke-linecap="round"/>
<line x1="143.85" y1="348.4" x2="161.35" y2="348.4" stroke="#B06C04" stroke-width="3.1999999999999997" stroke-linecap="round"/>
<line x1="143.85" y1="348.4" x2="161.35" y2="348.4" stroke="#fff" stroke-width="2.3" stroke-linecap="round"/>
<line x1="44.85" y1="358.1" x2="62.35" y2="358.1" stroke="#B06C04" stroke-width="3.1999999999999997" stroke-linecap="round"/>
<line x1="44.85" y1="358.1" x2="62.35" y2="358.1" stroke="#fff" stroke-width="2.3" stroke-linecap="round"/>
<line x1="69.60" y1="358.1" x2="87.10" y2="358.1" stroke="#B06C04" stroke-width="3.1999999999999997" stroke-linecap="round"/>
<line x1="69.60" y1="358.1" x2="87.10" y2="358.1" stroke="#fff" stroke-width="2.3" stroke-linecap="round"/>
<line x1="94.35" y1="358.1" x2="111.85" y2="358.1" stroke="#B06C04" stroke-width="3.1999999999999997" stroke-linecap="round"/>
<line x1="94.35" y1="358.1" x2="111.85" y2="358.1" stroke="#fff" stroke-width="2.3" stroke-linecap="round"/>
<line x1="119.10" y1="358.1" x2="136.60" y2="358.1" stroke="#B06C04" stroke-width="3.1999999999999997" stroke-linecap="round"/>
<line x1="119.10" y1="358.1" x2="136.60" y2="358.1" stroke="#fff" stroke-width="2.3" stroke-linecap="round"/>
<line x1="143.85" y1="358.1" x2="161.35" y2="358.1" stroke="#B06C04" stroke-width="3.1999999999999997" stroke-linecap="round"/>
<line x1="143.85" y1="358.1" x2="161.35" y2="358.1" stroke="#fff" stroke-width="2.3" stroke-linecap="round"/>
<path d="M101.60,370.90 L101.80,363.60 Q102.90,361.00 104.00,363.60 L104.20,370.90" fill="#fff" stroke="#B06C04" stroke-width="0.8"/>
<rect x="101.60" y="370.00" width="2.6" height="1.2" fill="#fff"/>
<rect x="205.10" y="335.00" width="150.60" height="36.10" fill="#E02C06" stroke="#A81A04" stroke-width="1"/>
<line x1="221.35" y1="339.6" x2="232.05" y2="339.6" stroke="#A81A04" stroke-width="3.1999999999999997" stroke-linecap="round"/>
<line x1="221.35" y1="339.6" x2="232.05" y2="339.6" stroke="#fff" stroke-width="2.3" stroke-linecap="round"/>
<line x1="239.35" y1="339.6" x2="250.05" y2="339.6" stroke="#A81A04" stroke-width="3.1999999999999997" stroke-linecap="round"/>
<line x1="239.35" y1="339.6" x2="250.05" y2="339.6" stroke="#fff" stroke-width="2.3" stroke-linecap="round"/>
<line x1="257.35" y1="339.6" x2="268.05" y2="339.6" stroke="#A81A04" stroke-width="3.1999999999999997" stroke-linecap="round"/>
<line x1="257.35" y1="339.6" x2="268.05" y2="339.6" stroke="#fff" stroke-width="2.3" stroke-linecap="round"/>
<line x1="275.35" y1="339.6" x2="286.05" y2="339.6" stroke="#A81A04" stroke-width="3.1999999999999997" stroke-linecap="round"/>
<line x1="275.35" y1="339.6" x2="286.05" y2="339.6" stroke="#fff" stroke-width="2.3" stroke-linecap="round"/>
<line x1="293.35" y1="339.6" x2="304.05" y2="339.6" stroke="#A81A04" stroke-width="3.1999999999999997" stroke-linecap="round"/>
<line x1="293.35" y1="339.6" x2="304.05" y2="339.6" stroke="#fff" stroke-width="2.3" stroke-linecap="round"/>
<line x1="311.35" y1="339.6" x2="322.05" y2="339.6" stroke="#A81A04" stroke-width="3.1999999999999997" stroke-linecap="round"/>
<line x1="311.35" y1="339.6" x2="322.05" y2="339.6" stroke="#fff" stroke-width="2.3" stroke-linecap="round"/>
<line x1="329.35" y1="339.6" x2="340.05" y2="339.6" stroke="#A81A04" stroke-width="3.1999999999999997" stroke-linecap="round"/>
<line x1="329.35" y1="339.6" x2="340.05" y2="339.6" stroke="#fff" stroke-width="2.3" stroke-linecap="round"/>
<line x1="231.05" y1="349.8" x2="245.25" y2="349.8" stroke="#A81A04" stroke-width="3.1999999999999997" stroke-linecap="round"/>
<line x1="231.05" y1="349.8" x2="245.25" y2="349.8" stroke="#fff" stroke-width="2.3" stroke-linecap="round"/>
<line x1="252.35" y1="349.8" x2="266.55" y2="349.8" stroke="#A81A04" stroke-width="3.1999999999999997" stroke-linecap="round"/>
<line x1="252.35" y1="349.8" x2="266.55" y2="349.8" stroke="#fff" stroke-width="2.3" stroke-linecap="round"/>
<line x1="273.65" y1="349.8" x2="287.85" y2="349.8" stroke="#A81A04" stroke-width="3.1999999999999997" stroke-linecap="round"/>
<line x1="273.65" y1="349.8" x2="287.85" y2="349.8" stroke="#fff" stroke-width="2.3" stroke-linecap="round"/>
<line x1="294.95" y1="349.8" x2="309.15" y2="349.8" stroke="#A81A04" stroke-width="3.1999999999999997" stroke-linecap="round"/>
<line x1="294.95" y1="349.8" x2="309.15" y2="349.8" stroke="#fff" stroke-width="2.3" stroke-linecap="round"/>
<line x1="316.25" y1="349.8" x2="330.45" y2="349.8" stroke="#A81A04" stroke-width="3.1999999999999997" stroke-linecap="round"/>
<line x1="316.25" y1="349.8" x2="330.45" y2="349.8" stroke="#fff" stroke-width="2.3" stroke-linecap="round"/>
<line x1="337.55" y1="349.8" x2="351.75" y2="349.8" stroke="#A81A04" stroke-width="3.1999999999999997" stroke-linecap="round"/>
<line x1="337.55" y1="349.8" x2="351.75" y2="349.8" stroke="#fff" stroke-width="2.3" stroke-linecap="round"/>
<line x1="222.25" y1="359.1" x2="240.15" y2="359.1" stroke="#A81A04" stroke-width="3.1999999999999997" stroke-linecap="round"/>
<line x1="222.25" y1="359.1" x2="240.15" y2="359.1" stroke="#fff" stroke-width="2.3" stroke-linecap="round"/>
<line x1="246.95" y1="359.1" x2="264.85" y2="359.1" stroke="#A81A04" stroke-width="3.1999999999999997" stroke-linecap="round"/>
<line x1="246.95" y1="359.1" x2="264.85" y2="359.1" stroke="#fff" stroke-width="2.3" stroke-linecap="round"/>
<line x1="271.65" y1="359.1" x2="289.55" y2="359.1" stroke="#A81A04" stroke-width="3.1999999999999997" stroke-linecap="round"/>
<line x1="271.65" y1="359.1" x2="289.55" y2="359.1" stroke="#fff" stroke-width="2.3" stroke-linecap="round"/>
<line x1="296.35" y1="359.1" x2="314.25" y2="359.1" stroke="#A81A04" stroke-width="3.1999999999999997" stroke-linecap="round"/>
<line x1="296.35" y1="359.1" x2="314.25" y2="359.1" stroke="#fff" stroke-width="2.3" stroke-linecap="round"/>
<line x1="321.05" y1="359.1" x2="338.95" y2="359.1" stroke="#A81A04" stroke-width="3.1999999999999997" stroke-linecap="round"/>
<line x1="321.05" y1="359.1" x2="338.95" y2="359.1" stroke="#fff" stroke-width="2.3" stroke-linecap="round"/>
<path d="M279.60,371.90 L279.80,364.60 Q280.90,362.00 282.00,364.60 L282.20,371.90" fill="#fff" stroke="#A81A04" stroke-width="0.8"/>
<rect x="279.60" y="371.00" width="2.6" height="1.2" fill="#fff"/>
<rect x="381.30" y="334.50" width="138.00" height="36.20" fill="#E02C06" stroke="#A81A04" stroke-width="1"/>
<line x1="387.25" y1="339.6" x2="390.75" y2="339.6" stroke="#A81A04" stroke-width="3.1999999999999997" stroke-linecap="round"/>
<line x1="387.25" y1="339.6" x2="390.75" y2="339.6" stroke="#fff" stroke-width="2.3" stroke-linecap="round"/>
<line x1="397.52" y1="339.6" x2="401.02" y2="339.6" stroke="#A81A04" stroke-width="3.1999999999999997" stroke-linecap="round"/>
<line x1="397.52" y1="339.6" x2="401.02" y2="339.6" stroke="#fff" stroke-width="2.3" stroke-linecap="round"/>
<line x1="407.79" y1="339.6" x2="411.29" y2="339.6" stroke="#A81A04" stroke-width="3.1999999999999997" stroke-linecap="round"/>
<line x1="407.79" y1="339.6" x2="411.29" y2="339.6" stroke="#fff" stroke-width="2.3" stroke-linecap="round"/>
<line x1="418.06" y1="339.6" x2="421.56" y2="339.6" stroke="#A81A04" stroke-width="3.1999999999999997" stroke-linecap="round"/>
<line x1="418.06" y1="339.6" x2="421.56" y2="339.6" stroke="#fff" stroke-width="2.3" stroke-linecap="round"/>
<line x1="428.33" y1="339.6" x2="431.83" y2="339.6" stroke="#A81A04" stroke-width="3.1999999999999997" stroke-linecap="round"/>
<line x1="428.33" y1="339.6" x2="431.83" y2="339.6" stroke="#fff" stroke-width="2.3" stroke-linecap="round"/>
<line x1="438.60" y1="339.6" x2="442.10" y2="339.6" stroke="#A81A04" stroke-width="3.1999999999999997" stroke-linecap="round"/>
<line x1="438.60" y1="339.6" x2="442.10" y2="339.6" stroke="#fff" stroke-width="2.3" stroke-linecap="round"/>
<line x1="448.87" y1="339.6" x2="452.37" y2="339.6" stroke="#A81A04" stroke-width="3.1999999999999997" stroke-linecap="round"/>
<line x1="448.87" y1="339.6" x2="452.37" y2="339.6" stroke="#fff" stroke-width="2.3" stroke-linecap="round"/>
<line x1="459.14" y1="339.6" x2="462.64" y2="339.6" stroke="#A81A04" stroke-width="3.1999999999999997" stroke-linecap="round"/>
<line x1="459.14" y1="339.6" x2="462.64" y2="339.6" stroke="#fff" stroke-width="2.3" stroke-linecap="round"/>
<line x1="469.41" y1="339.6" x2="472.91" y2="339.6" stroke="#A81A04" stroke-width="3.1999999999999997" stroke-linecap="round"/>
<line x1="469.41" y1="339.6" x2="472.91" y2="339.6" stroke="#fff" stroke-width="2.3" stroke-linecap="round"/>
<line x1="479.68" y1="339.6" x2="483.18" y2="339.6" stroke="#A81A04" stroke-width="3.1999999999999997" stroke-linecap="round"/>
<line x1="479.68" y1="339.6" x2="483.18" y2="339.6" stroke="#fff" stroke-width="2.3" stroke-linecap="round"/>
<line x1="489.95" y1="339.6" x2="493.45" y2="339.6" stroke="#A81A04" stroke-width="3.1999999999999997" stroke-linecap="round"/>
<line x1="489.95" y1="339.6" x2="493.45" y2="339.6" stroke="#fff" stroke-width="2.3" stroke-linecap="round"/>
<line x1="500.22" y1="339.6" x2="503.72" y2="339.6" stroke="#A81A04" stroke-width="3.1999999999999997" stroke-linecap="round"/>
<line x1="500.22" y1="339.6" x2="503.72" y2="339.6" stroke="#fff" stroke-width="2.3" stroke-linecap="round"/>
<line x1="510.49" y1="339.6" x2="513.99" y2="339.6" stroke="#A81A04" stroke-width="3.1999999999999997" stroke-linecap="round"/>
<line x1="510.49" y1="339.6" x2="513.99" y2="339.6" stroke="#fff" stroke-width="2.3" stroke-linecap="round"/>
<line x1="412.55" y1="349.3" x2="422.45" y2="349.3" stroke="#A81A04" stroke-width="3.1999999999999997" stroke-linecap="round"/>
<line x1="412.55" y1="349.3" x2="422.45" y2="349.3" stroke="#fff" stroke-width="2.3" stroke-linecap="round"/>
<line x1="429.05" y1="349.3" x2="438.95" y2="349.3" stroke="#A81A04" stroke-width="3.1999999999999997" stroke-linecap="round"/>
<line x1="429.05" y1="349.3" x2="438.95" y2="349.3" stroke="#fff" stroke-width="2.3" stroke-linecap="round"/>
<line x1="445.55" y1="349.3" x2="455.45" y2="349.3" stroke="#A81A04" stroke-width="3.1999999999999997" stroke-linecap="round"/>
<line x1="445.55" y1="349.3" x2="455.45" y2="349.3" stroke="#fff" stroke-width="2.3" stroke-linecap="round"/>
<line x1="462.05" y1="349.3" x2="471.95" y2="349.3" stroke="#A81A04" stroke-width="3.1999999999999997" stroke-linecap="round"/>
<line x1="462.05" y1="349.3" x2="471.95" y2="349.3" stroke="#fff" stroke-width="2.3" stroke-linecap="round"/>
<line x1="478.55" y1="349.3" x2="488.45" y2="349.3" stroke="#A81A04" stroke-width="3.1999999999999997" stroke-linecap="round"/>
<line x1="478.55" y1="349.3" x2="488.45" y2="349.3" stroke="#fff" stroke-width="2.3" stroke-linecap="round"/>
<line x1="495.05" y1="349.3" x2="504.95" y2="349.3" stroke="#A81A04" stroke-width="3.1999999999999997" stroke-linecap="round"/>
<line x1="495.05" y1="349.3" x2="504.95" y2="349.3" stroke="#fff" stroke-width="2.3" stroke-linecap="round"/>
<line x1="397.05" y1="358.4" x2="413.15" y2="358.4" stroke="#A81A04" stroke-width="3.1999999999999997" stroke-linecap="round"/>
<line x1="397.05" y1="358.4" x2="413.15" y2="358.4" stroke="#fff" stroke-width="2.3" stroke-linecap="round"/>
<line x1="419.75" y1="358.4" x2="435.85" y2="358.4" stroke="#A81A04" stroke-width="3.1999999999999997" stroke-linecap="round"/>
<line x1="419.75" y1="358.4" x2="435.85" y2="358.4" stroke="#fff" stroke-width="2.3" stroke-linecap="round"/>
<line x1="442.45" y1="358.4" x2="458.55" y2="358.4" stroke="#A81A04" stroke-width="3.1999999999999997" stroke-linecap="round"/>
<line x1="442.45" y1="358.4" x2="458.55" y2="358.4" stroke="#fff" stroke-width="2.3" stroke-linecap="round"/>
<line x1="465.15" y1="358.4" x2="481.25" y2="358.4" stroke="#A81A04" stroke-width="3.1999999999999997" stroke-linecap="round"/>
<line x1="465.15" y1="358.4" x2="481.25" y2="358.4" stroke="#fff" stroke-width="2.3" stroke-linecap="round"/>
<line x1="487.85" y1="358.4" x2="503.95" y2="358.4" stroke="#A81A04" stroke-width="3.1999999999999997" stroke-linecap="round"/>
<line x1="487.85" y1="358.4" x2="503.95" y2="358.4" stroke="#fff" stroke-width="2.3" stroke-linecap="round"/>
<path d="M449.00,371.50 L449.20,364.20 Q450.30,361.60 451.40,364.20 L451.60,371.50" fill="#fff" stroke="#A81A04" stroke-width="0.8"/>
<rect x="449.00" y="370.60" width="2.6" height="1.2" fill="#fff"/>
<text x="526" y="248.7" font-family='"Liberation Sans", sans-serif' font-size="15" font-weight="normal" font-style="normal" fill="#000" text-anchor="start" >1</text>
<text x="525.6" y="306.4" font-family='"Liberation Sans", sans-serif' font-size="15" font-weight="normal" font-style="normal" fill="#000" text-anchor="start" >2/3</text>
<text x="526.2" y="356.3" font-family='"Liberation Sans", sans-serif' font-size="15" font-weight="normal" font-style="normal" fill="#000" text-anchor="start" >0</text>
<text x="102.6" y="387.2" font-family='"Liberation Sans", sans-serif' font-size="15" font-weight="normal" font-style="normal" fill="#000" text-anchor="middle" >0</text>
<text x="279.4" y="386.7" font-family='"Liberation Sans", sans-serif' font-size="15" font-weight="normal" font-style="normal" fill="#000" text-anchor="middle" textLength="21" lengthAdjust="spacingAndGlyphs">0.5</text>
<text x="449" y="385.8" font-family='"Liberation Sans", sans-serif' font-size="15" font-weight="normal" font-style="normal" fill="#000" text-anchor="middle" >1</text>
<text x="6.5" y="299.2" font-family='"Liberation Serif", serif' font-size="12.7" font-weight="normal" font-style="italic" fill="#000" text-anchor="start" textLength="16" lengthAdjust="spacingAndGlyphs">&#8706;d</text>
<line x1="6.3" y1="301.9" x2="22.7" y2="301.9" stroke="#222" stroke-width="0.9"/>
<text x="6.8" y="311.5" font-family='"Liberation Serif", serif' font-size="13.5" font-weight="normal" font-style="italic" fill="#000" text-anchor="start" textLength="15.2" lengthAdjust="spacingAndGlyphs">&#8706;y</text>
<text x="261.1" y="402.5" font-family='"Liberation Serif", serif' font-size="14" font-weight="normal" font-style="italic" fill="#000" text-anchor="start" textLength="38" lengthAdjust="spacingAndGlyphs">&#8706;L/&#8706;y</text>
<text x="7.0" y="416.5" font-family='"Liberation Sans", sans-serif' font-size="27.8" font-weight="normal" font-style="normal" fill="#000" text-anchor="start" stroke="#000" stroke-width="1.1">C</text>
<rect x="58.5" y="420.3" width="230.5" height="197.3" fill="none" stroke="#000" stroke-width="1.4"/>
<line x1="142.40" y1="617.6" x2="142.40" y2="614.6" stroke="#000" stroke-width="1"/>
<line x1="142.40" y1="420.3" x2="142.40" y2="423.3" stroke="#000" stroke-width="1"/>
<line x1="226.30" y1="617.6" x2="226.30" y2="614.6" stroke="#000" stroke-width="1"/>
<line x1="226.30" y1="420.3" x2="226.30" y2="423.3" stroke="#000" stroke-width="1"/>
<line x1="58.5" y1="551.80" x2="61.5" y2="551.80" stroke="#000" stroke-width="1"/>
<line x1="289" y1="551.80" x2="286" y2="551.80" stroke="#000" stroke-width="1"/>
<line x1="58.5" y1="486.00" x2="61.5" y2="486.00" stroke="#000" stroke-width="1"/>
<line x1="289" y1="486.00" x2="286" y2="486.00" stroke="#000" stroke-width="1"/>
<text x="55.6" y="428.4" font-family='"Liberation Sans", sans-serif' font-size="17" font-weight="normal" font-style="normal" fill="#000" text-anchor="end" >600</text>
<text x="55.6" y="493" font-family='"Liberation Sans", sans-serif' font-size="17" font-weight="normal" font-style="normal" fill="#000" text-anchor="end" >400</text>
<text x="55.6" y="558.9" font-family='"Liberation Sans", sans-serif' font-size="17" font-weight="normal" font-style="normal" fill="#000" text-anchor="end" >200</text>
<text x="55.6" y="634" font-family='"Liberation Sans", sans-serif' font-size="17" font-weight="normal" font-style="normal" fill="#000" text-anchor="middle" >0</text>
<text x="141.5" y="634" font-family='"Liberation Sans", sans-serif' font-size="17" font-weight="normal" font-style="normal" fill="#000" text-anchor="middle" >2</text>
<text x="225.6" y="634" font-family='"Liberation Sans", sans-serif' font-size="17" font-weight="normal" font-style="normal" fill="#000" text-anchor="middle" >4</text>
<text x="91.4" y="651.2" font-family='"Liberation Sans", sans-serif' font-size="17.3" font-weight="normal" font-style="normal" fill="#000" text-anchor="start" style="white-space:pre" textLength="158" lengthAdjust="spacingAndGlyphs">Displacement  (mm)</text>
<text transform="translate(18.3,555.6) rotate(-90)" font-family='"Liberation Sans", sans-serif' font-size="17" fill="#000" style="white-space:pre">Load  (N)</text>
<polyline points="59.4,616.8 73.1,553 74.2,617.3" fill="none" stroke="#E8544A" stroke-width="1.9"/>
<polyline points="60.5,617 88.2,548.2 88.7,574.62 91.47,570.11 94.25,565.68 97.02,561.31 99.8,557.03 102.57,552.83 105.35,548.71 108.12,544.67 110.9,540.71 113.67,536.83 116.45,533.05 119.22,529.34 121.99,525.73 124.77,522.2 127.54,518.76 130.32,515.4 133.09,512.14 135.87,508.97 138.64,505.88 141.42,502.88 144.19,499.98 146.97,497.16 149.74,494.43 152.52,491.8 155.29,489.25 158.06,486.79 160.84,484.41 163.61,482.13 166.39,479.93 169.16,477.82 171.94,475.8 174.71,473.85 177.49,472.0 180.26,470.22 183.04,468.53 185.81,466.92 188.58,465.38 191.36,463.93 194.13,462.54 196.91,461.24 199.68,460.0 202.46,458.84 205.23,457.75 208.01,456.72 210.78,455.76 213.56,454.86 216.33,454.03 219.11,453.25 221.88,452.53 224.65,451.86 227.43,451.24 230.2,450.67 232.98,450.15 235.75,449.67 238.53,449.23 241.3,448.82 244.08,448.46 246.85,448.12 249.63,447.81 252.4,447.52 253.2,617.3" fill="none" stroke="#7E9FD8" stroke-width="1.8" stroke-linejoin="round"/>
<circle cx="59.9" cy="617.8" r="2.6" fill="#000"/>
<circle cx="87.6" cy="545.8" r="2.6" fill="#000"/>
<circle cx="252.4" cy="447.6" r="2.6" fill="#000"/>
<text x="65.6" y="615.6" font-family='"Liberation Sans", sans-serif' font-size="16.5" font-weight="normal" font-style="normal" fill="#000" text-anchor="start" >i</text>
<text x="83.6" y="541.8" font-family='"Liberation Sans", sans-serif' font-size="17.5" font-weight="normal" font-style="normal" fill="#000" text-anchor="start" letter-spacing="0.6">ii</text>
<text x="249.5" y="443.2" font-family='"Liberation Sans", sans-serif' font-size="17.5" font-weight="normal" font-style="normal" fill="#000" text-anchor="start" textLength="10.6" lengthAdjust="spacing">iii</text>
<rect x="63.9" y="423.3" width="156.3" height="27.9" fill="#fff" stroke="#333" stroke-width="1.2"/>
<line x1="66.5" y1="430.7" x2="81.6" y2="430.7" stroke="#E8544A" stroke-width="3.2"/>
<line x1="66.5" y1="443.5" x2="81.6" y2="443.5" stroke="#7E9FD8" stroke-width="3.2"/>
<text x="85.5" y="434.3" font-family='"Liberation Sans", sans-serif' font-size="12.5" font-weight="normal" font-style="normal" fill="#000" text-anchor="start" >solid</text>
<text x="85.5" y="447.5" font-family='"Liberation Sans", sans-serif' font-size="12.4" font-weight="normal" font-style="normal" fill="#000" text-anchor="start" textLength="133.6" lengthAdjust="spacingAndGlyphs">bamboo-inspired pattern</text>
<defs><linearGradient id="bandg" x1="0" y1="0" x2="1" y2="0"><stop offset="0" stop-color="#3a3a3a" stop-opacity="0.2"/><stop offset="0.5" stop-color="#3a3a3a" stop-opacity="0.5"/><stop offset="1" stop-color="#5a5a5a" stop-opacity="0.85"/></linearGradient><linearGradient id="cyl" x1="0" y1="0" x2="0" y2="1"><stop offset="0" stop-color="#0e0e0e"/><stop offset="0.45" stop-color="#1e1e1e"/><stop offset="0.75" stop-color="#101010"/><stop offset="1" stop-color="#0a0a0a"/></linearGradient><linearGradient id="spec" x1="0" y1="0" x2="0" y2="1"><stop offset="0" stop-color="#4a4442"/><stop offset="0.5" stop-color="#433f3d"/><stop offset="1" stop-color="#3c3937"/></linearGradient><linearGradient id="ind" x1="0" y1="0" x2="0" y2="1"><stop offset="0" stop-color="#f6f4ee"/><stop offset="0.7" stop-color="#ece8e0"/><stop offset="1" stop-color="#d8d0c2"/></linearGradient><linearGradient id="grip" x1="0" y1="0" x2="1" y2="1"><stop offset="0" stop-color="#9a9690"/><stop offset="1" stop-color="#76726c"/></linearGradient><linearGradient id="shade" x1="0" y1="0" x2="1" y2="0"><stop offset="0" stop-color="#000" stop-opacity="0"/><stop offset="0.3" stop-color="#000" stop-opacity="0.05"/><stop offset="0.5" stop-color="#000" stop-opacity="0.3"/><stop offset="0.7" stop-color="#000" stop-opacity="0.05"/><stop offset="1" stop-color="#000" stop-opacity="0"/></linearGradient><linearGradient id="sm" x1="0" y1="0" x2="0" y2="1"><stop offset="0" stop-color="#7a6e68"/><stop offset="0.12" stop-color="#6c6560"/><stop offset="1" stop-color="#67625e"/></linearGradient></defs>
<rect x="297" y="419" width="220" height="112.5" fill="#111"/>
<rect x="297" y="419" width="88" height="86" fill="#181818"/>
<rect x="430" y="423" width="87" height="6" fill="url(#bandg)"/>
<rect x="430" y="440" width="87" height="6" fill="url(#bandg)"/>
<rect x="430" y="460" width="87" height="6" fill="url(#bandg)"/>
<rect x="430" y="480" width="87" height="6" fill="url(#bandg)"/>
<rect x="430" y="497" width="87" height="5" fill="url(#bandg)"/>
<rect x="324" y="505" width="164" height="26.5" fill="url(#cyl)"/>
<rect x="306.3" y="452.5" width="199.2" height="52" fill="url(#spec)"/>
<rect x="306.3" y="452.5" width="199.2" height="2" fill="#5e4a46"/>
<rect x="310.9" y="459.1" width="12" height="3.2" rx="1.6" fill="#1c0a09" stroke="#6a2824" stroke-width="0.7"/>
<line x1="312.9" y1="463.1" x2="320.9" y2="463.1" stroke="#6e6660" stroke-width="0.8"/>
<rect x="328.6" y="459.1" width="12" height="3.2" rx="1.6" fill="#1c0a09" stroke="#6a2824" stroke-width="0.7"/>
<line x1="330.6" y1="463.1" x2="338.6" y2="463.1" stroke="#6e6660" stroke-width="0.8"/>
<rect x="346.4" y="459.1" width="12" height="3.2" rx="1.6" fill="#1c0a09" stroke="#6a2824" stroke-width="0.7"/>
<line x1="348.4" y1="463.1" x2="356.4" y2="463.1" stroke="#6e6660" stroke-width="0.8"/>
<rect x="364.1" y="459.1" width="12" height="3.2" rx="1.6" fill="#1c0a09" stroke="#6a2824" stroke-width="0.7"/>
<line x1="366.1" y1="463.1" x2="374.1" y2="463.1" stroke="#6e6660" stroke-width="0.8"/>
<rect x="381.9" y="459.1" width="12" height="3.2" rx="1.6" fill="#1c0a09" stroke="#6a2824" stroke-width="0.7"/>
<line x1="383.9" y1="463.1" x2="391.9" y2="463.1" stroke="#6e6660" stroke-width="0.8"/>
<rect x="399.6" y="459.1" width="12" height="3.2" rx="1.6" fill="#1c0a09" stroke="#6a2824" stroke-width="0.7"/>
<line x1="401.6" y1="463.1" x2="409.6" y2="463.1" stroke="#6e6660" stroke-width="0.8"/>
<rect x="417.4" y="459.1" width="12" height="3.2" rx="1.6" fill="#1c0a09" stroke="#6a2824" stroke-width="0.7"/>
<line x1="419.4" y1="463.1" x2="427.4" y2="463.1" stroke="#6e6660" stroke-width="0.8"/>
<rect x="435.1" y="459.1" width="12" height="3.2" rx="1.6" fill="#1c0a09" stroke="#6a2824" stroke-width="0.7"/>
<line x1="437.1" y1="463.1" x2="445.1" y2="463.1" stroke="#6e6660" stroke-width="0.8"/>
<rect x="452.9" y="459.1" width="12" height="3.2" rx="1.6" fill="#1c0a09" stroke="#6a2824" stroke-width="0.7"/>
<line x1="454.9" y1="463.1" x2="462.9" y2="463.1" stroke="#6e6660" stroke-width="0.8"/>
<rect x="470.6" y="459.1" width="12" height="3.2" rx="1.6" fill="#1c0a09" stroke="#6a2824" stroke-width="0.7"/>
<line x1="472.6" y1="463.1" x2="480.6" y2="463.1" stroke="#6e6660" stroke-width="0.8"/>
<rect x="488.4" y="459.1" width="12" height="3.2" rx="1.6" fill="#1c0a09" stroke="#6a2824" stroke-width="0.7"/>
<line x1="490.4" y1="463.1" x2="498.4" y2="463.1" stroke="#6e6660" stroke-width="0.8"/>
<rect x="311.9" y="472.3" width="19" height="3.4" rx="1.7" fill="#1c0a09" stroke="#6a2824" stroke-width="0.7"/>
<line x1="313.9" y1="476.5" x2="328.9" y2="476.5" stroke="#6e6660" stroke-width="0.8"/>
<rect x="337.1" y="472.3" width="19" height="3.4" rx="1.7" fill="#1c0a09" stroke="#6a2824" stroke-width="0.7"/>
<line x1="339.1" y1="476.5" x2="354.1" y2="476.5" stroke="#6e6660" stroke-width="0.8"/>
<rect x="362.3" y="472.3" width="19" height="3.4" rx="1.7" fill="#1c0a09" stroke="#6a2824" stroke-width="0.7"/>
<line x1="364.3" y1="476.5" x2="379.3" y2="476.5" stroke="#6e6660" stroke-width="0.8"/>
<rect x="387.5" y="472.3" width="19" height="3.4" rx="1.7" fill="#1c0a09" stroke="#6a2824" stroke-width="0.7"/>
<line x1="389.5" y1="476.5" x2="404.5" y2="476.5" stroke="#6e6660" stroke-width="0.8"/>
<rect x="412.7" y="472.3" width="19" height="3.4" rx="1.7" fill="#1c0a09" stroke="#6a2824" stroke-width="0.7"/>
<line x1="414.7" y1="476.5" x2="429.7" y2="476.5" stroke="#6e6660" stroke-width="0.8"/>
<rect x="437.9" y="472.3" width="19" height="3.4" rx="1.7" fill="#1c0a09" stroke="#6a2824" stroke-width="0.7"/>
<line x1="439.9" y1="476.5" x2="454.9" y2="476.5" stroke="#6e6660" stroke-width="0.8"/>
<rect x="463.1" y="472.3" width="19" height="3.4" rx="1.7" fill="#1c0a09" stroke="#6a2824" stroke-width="0.7"/>
<line x1="465.1" y1="476.5" x2="480.1" y2="476.5" stroke="#6e6660" stroke-width="0.8"/>
<rect x="327.6" y="485.1" width="26" height="3.4" rx="1.7" fill="#1c0a09" stroke="#6a2824" stroke-width="0.7"/>
<line x1="329.6" y1="489.3" x2="351.6" y2="489.3" stroke="#6e6660" stroke-width="0.8"/>
<rect x="360.0" y="485.1" width="26" height="3.4" rx="1.7" fill="#1c0a09" stroke="#6a2824" stroke-width="0.7"/>
<line x1="362.0" y1="489.3" x2="384.0" y2="489.3" stroke="#6e6660" stroke-width="0.8"/>
<rect x="392.4" y="485.1" width="26" height="3.4" rx="1.7" fill="#1c0a09" stroke="#6a2824" stroke-width="0.7"/>
<line x1="394.4" y1="489.3" x2="416.4" y2="489.3" stroke="#6e6660" stroke-width="0.8"/>
<rect x="424.8" y="485.1" width="26" height="3.4" rx="1.7" fill="#1c0a09" stroke="#6a2824" stroke-width="0.7"/>
<line x1="426.8" y1="489.3" x2="448.8" y2="489.3" stroke="#6e6660" stroke-width="0.8"/>
<rect x="457.2" y="485.1" width="26" height="3.4" rx="1.7" fill="#1c0a09" stroke="#6a2824" stroke-width="0.7"/>
<line x1="459.2" y1="489.3" x2="481.2" y2="489.3" stroke="#6e6660" stroke-width="0.8"/>
<rect x="376" y="454.5" width="60" height="50" fill="url(#shade)" opacity="0.8"/>
<path d="M404.9,503 L405.5,493 L406.3,493 L406.9,503 Z" fill="#0a0a0a"/>
<clipPath id="indc"><path d="M385.2,419 L403.6,448.8 Q406.4,453.2 409.2,448.8 L427,419 Z"/></clipPath>
<path d="M385.2,419 L403.6,448.8 Q406.4,453.2 409.2,448.8 L427,419 Z" fill="url(#ind)"/>
<g clip-path="url(#indc)"><line x1="385" y1="421" x2="428" y2="421" stroke="#bdb6aa" stroke-width="0.8"/><line x1="385" y1="423" x2="428" y2="423" stroke="#bdb6aa" stroke-width="0.8"/><line x1="385" y1="425" x2="428" y2="425" stroke="#bdb6aa" stroke-width="0.8"/><line x1="385" y1="427" x2="428" y2="427" stroke="#bdb6aa" stroke-width="0.8"/><line x1="385" y1="429" x2="428" y2="429" stroke="#bdb6aa" stroke-width="0.8"/><line x1="385" y1="431" x2="428" y2="431" stroke="#bdb6aa" stroke-width="0.8"/><line x1="385" y1="433" x2="428" y2="433" stroke="#bdb6aa" stroke-width="0.8"/><line x1="385" y1="435" x2="428" y2="435" stroke="#bdb6aa" stroke-width="0.8"/><line x1="385" y1="437" x2="428" y2="437" stroke="#bdb6aa" stroke-width="0.8"/><line x1="385" y1="439" x2="428" y2="439" stroke="#bdb6aa" stroke-width="0.8"/><line x1="385" y1="441" x2="428" y2="441" stroke="#bdb6aa" stroke-width="0.8"/><line x1="385" y1="443" x2="428" y2="443" stroke="#bdb6aa" stroke-width="0.8"/><line x1="385" y1="445" x2="428" y2="445" stroke="#bdb6aa" stroke-width="0.8"/><line x1="385" y1="447" x2="428" y2="447" stroke="#bdb6aa" stroke-width="0.8"/><line x1="385" y1="449" x2="428" y2="449" stroke="#bdb6aa" stroke-width="0.8"/><line x1="385" y1="451" x2="428" y2="451" stroke="#bdb6aa" stroke-width="0.8"/></g>
<rect x="297" y="505.5" width="27.2" height="26" fill="url(#grip)"/>
<rect x="487.9" y="504.5" width="28.8" height="27" fill="url(#grip)"/>
<line x1="297" y1="507" x2="324" y2="507" stroke="#c8c6c2" stroke-width="1"/>
<line x1="488" y1="506" x2="516.7" y2="506" stroke="#c8c6c2" stroke-width="1"/>
<circle cx="316.6" cy="512.3" r="5" fill="#c4c2be" stroke="#e0deda" stroke-width="0.8"/>
<circle cx="494.8" cy="513.6" r="5" fill="#c4c2be" stroke="#e0deda" stroke-width="0.8"/>
<line x1="316" y1="517" x2="316" y2="531.5" stroke="#cc3a3a" stroke-width="1.6"/>
<line x1="495" y1="518.5" x2="495" y2="531.5" stroke="#cc3a3a" stroke-width="1.6"/>
<rect x="379" y="451.5" width="57.2" height="56" fill="none" stroke="#8fb0e6" stroke-width="1.6" stroke-dasharray="4 2.2"/>
<line x1="306.3" y1="430.4" x2="320.9" y2="430.4" stroke="#a8c4ee" stroke-width="2.4"/>
<text x="326" y="437.7" font-family='"Liberation Sans", sans-serif' font-size="16.6" fill="#a8c4ee" textLength="45" lengthAdjust="spacingAndGlyphs">5 mm</text>
<rect x="295" y="547.9" width="71.1" height="69.1" fill="#141414"/>
<rect x="295" y="560.9" width="71.1" height="48.2" fill="url(#sm)"/>
<rect x="295" y="560.9" width="71.1" height="2.5" fill="#8a7672" opacity="0.8"/>
<rect x="295" y="563.4" width="71.1" height="45.7" fill="url(#shade)"/>
<path d="M320.8,547.4 L327.4,559.2 C328.7,562.2 329.9,562.8 331.3,562.8 C332.7,562.8 333.9,562.2 335.2,559.2 L343.2,547.4 Z" fill="#fdfdfd"/>
<path d="M320.8,547.4 L327.4,559.2 C328.7,562.2 329.9,562.8 331.3,562.8 C332.7,562.8 333.9,562.2 335.2,559.2 L343.2,547.4" fill="none" stroke="#1a1a1a" stroke-width="0.8"/>
<text x="300" y="564.4" font-family='"Liberation Sans", sans-serif' font-size="15" fill="#a8c4ee" stroke="#a8c4ee" stroke-width="0.5" textLength="3.4" lengthAdjust="spacingAndGlyphs">i</text>
<rect x="295" y="567.5" width="9.2" height="2.6" rx="1.2" fill="#1e0e0c"/>
<rect x="309.5" y="567.5" width="9.9" height="2.6" rx="1.2" fill="#1e0e0c"/>
<rect x="326" y="567.5" width="10.6" height="2.6" rx="1.2" fill="#1e0e0c"/>
<rect x="342.2" y="567.5" width="10.9" height="2.6" rx="1.2" fill="#1e0e0c"/>
<rect x="358.4" y="567.5" width="7.6" height="2.6" rx="1.2" fill="#1e0e0c"/>
<rect x="295" y="579.4" width="13.9" height="2.6" rx="1.2" fill="#1e0e0c"/>
<rect x="314.4" y="579.4" width="17.6" height="2.6" rx="1.2" fill="#1e0e0c"/>
<rect x="337.7" y="579.4" width="17.4" height="2.6" rx="1.2" fill="#1e0e0c"/>
<rect x="360.7" y="579.4" width="5.3" height="2.6" rx="1.2" fill="#1e0e0c"/>
<rect x="295" y="591.3" width="18.9" height="2.6" rx="1.2" fill="#1e0e0c"/>
<rect x="319.2" y="591.3" width="24.7" height="2.6" rx="1.2" fill="#1e0e0c"/>
<rect x="349.2" y="591.3" width="16.8" height="2.6" rx="1.2" fill="#1e0e0c"/>
<path d="M329.9,609.1 L330.9,599.2 L331.7,599.2 L332.7,609.1 Z" fill="#111"/>
<rect x="370" y="547.9" width="71.7" height="68.5" fill="#141414"/>
<rect x="370" y="562.2" width="71.7" height="45.6" fill="url(#sm)"/>
<rect x="370" y="562.2" width="71.7" height="2.5" fill="#8a7672" opacity="0.8"/>
<rect x="370" y="564.7" width="71.7" height="43.1" fill="url(#shade)"/>
<path d="M394.4,547.4 L403.1,561.2 C404.4,564.2 405.6,564.8 407,564.8 C408.4,564.8 409.6,564.2 410.9,561.2 L420.2,547.4 Z" fill="#fdfdfd"/>
<path d="M394.4,547.4 L403.1,561.2 C404.4,564.2 405.6,564.8 407,564.8 C408.4,564.8 409.6,564.2 410.9,561.2 L420.2,547.4" fill="none" stroke="#1a1a1a" stroke-width="0.8"/>
<text x="375" y="564.4" font-family='"Liberation Sans", sans-serif' font-size="15" fill="#a8c4ee" stroke="#a8c4ee" stroke-width="0.5" textLength="6.8" lengthAdjust="spacingAndGlyphs">ii</text>
<rect x="370.0" y="568.2" width="9.3" height="2.6" rx="1.2" fill="#1e0e0c"/>
<rect x="385.2" y="568.2" width="10.6" height="2.6" rx="1.2" fill="#1e0e0c"/>
<rect x="401.7" y="568.2" width="9.9" height="2.6" rx="1.2" fill="#1e0e0c"/>
<rect x="418.0" y="568.2" width="10.8" height="2.6" rx="1.2" fill="#1e0e0c"/>
<rect x="434.1" y="568.2" width="7.7" height="2.6" rx="1.2" fill="#1e0e0c"/>
<rect x="370.0" y="579.4" width="13.9" height="2.6" rx="1.2" fill="#1e0e0c"/>
<rect x="389.8" y="579.4" width="17.8" height="2.6" rx="1.2" fill="#1e0e0c"/>
<rect x="413.2" y="579.4" width="17.6" height="2.6" rx="1.2" fill="#1e0e0c"/>
<rect x="436.7" y="579.4" width="5.0" height="2.6" rx="1.2" fill="#1e0e0c"/>
<rect x="370.0" y="590.6" width="18.5" height="2.6" rx="1.2" fill="#1e0e0c"/>
<rect x="394.2" y="590.6" width="25.1" height="2.6" rx="1.2" fill="#1e0e0c"/>
<rect x="425.1" y="590.6" width="16.7" height="2.6" rx="1.2" fill="#1e0e0c"/>
<path d="M405.3,607.8 L406.3,598 L406.8,593 L407.2,593 L407.7,598 L408.7,607.8 Z" fill="#111"/>
<rect x="445.4" y="547.6" width="70.0" height="68.1" fill="#141414"/>
<path d="M445.4,564.1 L478,571.5 L515.4,562.8 L515.4,603.5 L478,612 L445.4,607.5 Z" fill="url(#sm)"/>
<path d="M445.4,564.1 L478,571.5 L515.4,562.8" fill="none" stroke="#8a7672" stroke-width="2.5" opacity="0.8"/>
<path d="M445.4,566.1 L478,573.5 L515.4,564.8 L515.4,603.5 L478,612 L445.4,607.5 Z" fill="url(#shade)"/>
<path d="M463.5,547.1 L474.1,566.5 C475.4,569.5 476.6,570.1 478,570.1 C479.4,570.1 480.6,569.5 481.9,566.5 L491.9,547.1 Z" fill="#fdfdfd"/>
<path d="M463.5,547.1 L474.1,566.5 C475.4,569.5 476.6,570.1 478,570.1 C479.4,570.1 480.6,569.5 481.9,566.5 L491.9,547.1" fill="none" stroke="#1a1a1a" stroke-width="0.8"/>
<text x="450.4" y="564.1" font-family='"Liberation Sans", sans-serif' font-size="15" fill="#a8c4ee" stroke="#a8c4ee" stroke-width="0.5" textLength="10.2" lengthAdjust="spacingAndGlyphs">iii</text>
<path d="M445.4,571.4 L453.5,572.2" fill="none" stroke="#1e0e0c" stroke-width="2.6" stroke-linecap="round"/>
<path d="M459.5,572.7 L469.5,573.7" fill="none" stroke="#1e0e0c" stroke-width="2.6" stroke-linecap="round"/>
<path d="M475.0,574.2 L478.0,574.5 L486.0,573.6" fill="none" stroke="#1e0e0c" stroke-width="2.6" stroke-linecap="round"/>
<path d="M489.0,573.2 L499.0,572.0" fill="none" stroke="#1e0e0c" stroke-width="2.6" stroke-linecap="round"/>
<path d="M503.0,571.6 L515.4,570.1" fill="none" stroke="#1e0e0c" stroke-width="2.6" stroke-linecap="round"/>
<path d="M445.4,582.6 L458.0,583.8" fill="none" stroke="#1e0e0c" stroke-width="2.6" stroke-linecap="round"/>
<path d="M463.5,584.4 L478.0,585.8 L479.0,585.6" fill="none" stroke="#1e0e0c" stroke-width="2.6" stroke-linecap="round"/>
<path d="M484.0,584.7 L499.0,581.9" fill="none" stroke="#1e0e0c" stroke-width="2.6" stroke-linecap="round"/>
<path d="M503.5,581.0 L515.4,578.8" fill="none" stroke="#1e0e0c" stroke-width="2.6" stroke-linecap="round"/>
<path d="M445.4,593.2 L461.0,595.0" fill="none" stroke="#1e0e0c" stroke-width="2.6" stroke-linecap="round"/>
<path d="M466.5,595.7 L478.0,597.0 L491.0,594.4" fill="none" stroke="#1e0e0c" stroke-width="2.6" stroke-linecap="round"/>
<path d="M495.5,593.4 L515.4,589.4" fill="none" stroke="#1e0e0c" stroke-width="2.6" stroke-linecap="round"/>
<path d="M475,612 L477.2,600 L478.8,600 L481,612 Z" fill="#111"/>
</svg>
</body></html>
